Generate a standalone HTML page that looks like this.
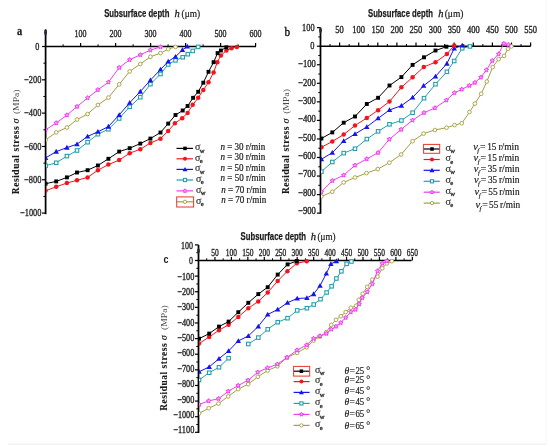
<!DOCTYPE html>
<html><head><meta charset="utf-8"><title>Residual stress vs subsurface depth</title>
<style>html,body{margin:0;padding:0;background:#fff;}svg{display:block;}</style></head>
<body><svg width="550" height="446" viewBox="0 0 550 446">
<rect width="550" height="446" fill="#fff"/>
<line x1="44.800000000000004" y1="46.5" x2="256" y2="46.5" stroke="#000" stroke-width="1.55"/>
<line x1="45.6" y1="29.5" x2="45.6" y2="214.2" stroke="#000" stroke-width="1.75"/>
<line x1="80.60" y1="46.5" x2="80.60" y2="42.9" stroke="#000" stroke-width="1.2"/>
<line x1="115.60" y1="46.5" x2="115.60" y2="42.9" stroke="#000" stroke-width="1.2"/>
<line x1="150.60" y1="46.5" x2="150.60" y2="42.9" stroke="#000" stroke-width="1.2"/>
<line x1="185.60" y1="46.5" x2="185.60" y2="42.9" stroke="#000" stroke-width="1.2"/>
<line x1="220.60" y1="46.5" x2="220.60" y2="42.9" stroke="#000" stroke-width="1.2"/>
<line x1="255.60" y1="46.5" x2="255.60" y2="42.9" stroke="#000" stroke-width="1.2"/>
<line x1="63.10" y1="46.5" x2="63.10" y2="44.3" stroke="#000" stroke-width="1"/>
<line x1="98.10" y1="46.5" x2="98.10" y2="44.3" stroke="#000" stroke-width="1"/>
<line x1="133.10" y1="46.5" x2="133.10" y2="44.3" stroke="#000" stroke-width="1"/>
<line x1="168.10" y1="46.5" x2="168.10" y2="44.3" stroke="#000" stroke-width="1"/>
<line x1="203.10" y1="46.5" x2="203.10" y2="44.3" stroke="#000" stroke-width="1"/>
<line x1="238.10" y1="46.5" x2="238.10" y2="44.3" stroke="#000" stroke-width="1"/>
<line x1="45.6" y1="46.50" x2="42.0" y2="46.50" stroke="#000" stroke-width="1.2"/>
<line x1="45.6" y1="79.82" x2="42.0" y2="79.82" stroke="#000" stroke-width="1.2"/>
<line x1="45.6" y1="113.14" x2="42.0" y2="113.14" stroke="#000" stroke-width="1.2"/>
<line x1="45.6" y1="146.46" x2="42.0" y2="146.46" stroke="#000" stroke-width="1.2"/>
<line x1="45.6" y1="179.78" x2="42.0" y2="179.78" stroke="#000" stroke-width="1.2"/>
<line x1="45.6" y1="213.10" x2="42.0" y2="213.10" stroke="#000" stroke-width="1.2"/>
<line x1="45.6" y1="63.16" x2="43.4" y2="63.16" stroke="#000" stroke-width="1"/>
<line x1="45.6" y1="96.48" x2="43.4" y2="96.48" stroke="#000" stroke-width="1"/>
<line x1="45.6" y1="129.80" x2="43.4" y2="129.80" stroke="#000" stroke-width="1"/>
<line x1="45.6" y1="163.12" x2="43.4" y2="163.12" stroke="#000" stroke-width="1"/>
<line x1="45.6" y1="196.44" x2="43.4" y2="196.44" stroke="#000" stroke-width="1"/>
<ellipse cx="45.6" cy="32.3" rx="1.4" ry="3.0" fill="#1c2a3a"/>
<text x="80.60" y="36.80" font-family='"Liberation Serif", serif' font-size="9.3" font-weight="normal" font-style="normal" text-anchor="middle" fill="#2a2a2a" textLength="12.0" lengthAdjust="spacingAndGlyphs" stroke="#2a2a2a" stroke-width="0.35">100</text>
<text x="115.60" y="36.80" font-family='"Liberation Serif", serif' font-size="9.3" font-weight="normal" font-style="normal" text-anchor="middle" fill="#2a2a2a" textLength="12.0" lengthAdjust="spacingAndGlyphs" stroke="#2a2a2a" stroke-width="0.35">200</text>
<text x="150.60" y="36.80" font-family='"Liberation Serif", serif' font-size="9.3" font-weight="normal" font-style="normal" text-anchor="middle" fill="#2a2a2a" textLength="12.0" lengthAdjust="spacingAndGlyphs" stroke="#2a2a2a" stroke-width="0.35">300</text>
<text x="185.60" y="36.80" font-family='"Liberation Serif", serif' font-size="9.3" font-weight="normal" font-style="normal" text-anchor="middle" fill="#2a2a2a" textLength="12.0" lengthAdjust="spacingAndGlyphs" stroke="#2a2a2a" stroke-width="0.35">400</text>
<text x="220.60" y="36.80" font-family='"Liberation Serif", serif' font-size="9.3" font-weight="normal" font-style="normal" text-anchor="middle" fill="#2a2a2a" textLength="12.0" lengthAdjust="spacingAndGlyphs" stroke="#2a2a2a" stroke-width="0.35">500</text>
<text x="255.60" y="36.80" font-family='"Liberation Serif", serif' font-size="9.3" font-weight="normal" font-style="normal" text-anchor="middle" fill="#2a2a2a" textLength="12.0" lengthAdjust="spacingAndGlyphs" stroke="#2a2a2a" stroke-width="0.35">600</text>
<text x="35.30" y="49.50" font-family='"Liberation Serif", serif' font-size="9.3" font-weight="normal" font-style="normal" text-anchor="start" fill="#2a2a2a" textLength="4.1" lengthAdjust="spacingAndGlyphs" stroke="#2a2a2a" stroke-width="0.35">0</text>
<text x="24.10" y="83.00" font-family='"Liberation Serif", serif' font-size="9.3" font-weight="normal" font-style="normal" text-anchor="start" fill="#2a2a2a" textLength="17.3" lengthAdjust="spacingAndGlyphs" stroke="#2a2a2a" stroke-width="0.35">−200</text>
<text x="24.10" y="116.30" font-family='"Liberation Serif", serif' font-size="9.3" font-weight="normal" font-style="normal" text-anchor="start" fill="#2a2a2a" textLength="17.3" lengthAdjust="spacingAndGlyphs" stroke="#2a2a2a" stroke-width="0.35">−400</text>
<text x="24.10" y="149.80" font-family='"Liberation Serif", serif' font-size="9.3" font-weight="normal" font-style="normal" text-anchor="start" fill="#2a2a2a" textLength="17.3" lengthAdjust="spacingAndGlyphs" stroke="#2a2a2a" stroke-width="0.35">−600</text>
<text x="24.10" y="183.40" font-family='"Liberation Serif", serif' font-size="9.3" font-weight="normal" font-style="normal" text-anchor="start" fill="#2a2a2a" textLength="17.3" lengthAdjust="spacingAndGlyphs" stroke="#2a2a2a" stroke-width="0.35">−800</text>
<text x="20.00" y="215.70" font-family='"Liberation Serif", serif' font-size="9.3" font-weight="normal" font-style="normal" text-anchor="start" fill="#2a2a2a" textLength="21.4" lengthAdjust="spacingAndGlyphs" stroke="#2a2a2a" stroke-width="0.35">−1000</text>
<text x="104.20" y="16.70" font-family='"Liberation Sans", sans-serif' font-size="11" font-weight="bold" font-style="normal" text-anchor="start" fill="#1a1a1a" textLength="65.2" lengthAdjust="spacingAndGlyphs" stroke="#1a1a1a" stroke-width="0.25">Subsurface depth</text>
<text x="174.60" y="16.70" font-family='"Liberation Serif", serif' font-size="10.5" font-weight="normal" font-style="italic" text-anchor="start" fill="#1a1a1a" stroke="#1a1a1a" stroke-width="0.3">h</text>
<text x="181.60" y="16.70" font-family='"Liberation Serif", serif' font-size="10.5" font-weight="normal" font-style="normal" text-anchor="start" fill="#1a1a1a" textLength="18.6" lengthAdjust="spacingAndGlyphs" stroke="#1a1a1a" stroke-width="0.2">(μm)</text>
<text x="17.00" y="35.00" font-family='"Liberation Serif", serif' font-size="12" font-weight="bold" font-style="normal" text-anchor="start" fill="#1a1a1a" textLength="5.2" lengthAdjust="spacingAndGlyphs" stroke="#1a1a1a" stroke-width="0.3">a</text>
<g transform="translate(19.30,194.20) rotate(-90)">
<text x="0" y="0" font-family='"Liberation Serif", serif' font-size="9.4" font-weight="bold" fill="#1a1a1a" stroke="#1a1a1a" stroke-width="0.1" textLength="67.8" lengthAdjust="spacing">Residual stress</text>
<text x="70.60" y="0" font-family='"Liberation Serif", serif' font-size="10" font-style="italic" font-weight="bold" fill="#333">σ</text>
<text x="80.10" y="0" font-family='"Liberation Serif", serif' font-size="8.6" fill="#4a4a4a" textLength="24.70" lengthAdjust="spacingAndGlyphs">(MPa)</text>
</g>
<clipPath id="ca"><rect x="46.2" y="0" width="300" height="240"/></clipPath><g clip-path="url(#ca)">
<polyline points="45.6,139.9 56.2,132.4 66.9,127.5 77.0,119.6 87.6,114.0 97.9,105.0 108.4,97.6 119.2,84.4 129.7,71.4 140.3,64.0 150.4,56.8 160.5,53.1 168.2,49.1 175.5,46.9" fill="none" stroke="#a59e42" stroke-width="1"/>
<circle cx="45.60" cy="139.90" r="1.85" fill="#fff" stroke="#a59e42" stroke-width="0.9"/>
<circle cx="56.20" cy="132.40" r="1.85" fill="#fff" stroke="#a59e42" stroke-width="0.9"/>
<circle cx="66.90" cy="127.50" r="1.85" fill="#fff" stroke="#a59e42" stroke-width="0.9"/>
<circle cx="77.00" cy="119.60" r="1.85" fill="#fff" stroke="#a59e42" stroke-width="0.9"/>
<circle cx="87.60" cy="114.00" r="1.85" fill="#fff" stroke="#a59e42" stroke-width="0.9"/>
<circle cx="97.90" cy="105.00" r="1.85" fill="#fff" stroke="#a59e42" stroke-width="0.9"/>
<circle cx="108.40" cy="97.60" r="1.85" fill="#fff" stroke="#a59e42" stroke-width="0.9"/>
<circle cx="119.20" cy="84.40" r="1.85" fill="#fff" stroke="#a59e42" stroke-width="0.9"/>
<circle cx="129.70" cy="71.40" r="1.85" fill="#fff" stroke="#a59e42" stroke-width="0.9"/>
<circle cx="140.30" cy="64.00" r="1.85" fill="#fff" stroke="#a59e42" stroke-width="0.9"/>
<circle cx="150.40" cy="56.80" r="1.85" fill="#fff" stroke="#a59e42" stroke-width="0.9"/>
<circle cx="160.50" cy="53.10" r="1.85" fill="#fff" stroke="#a59e42" stroke-width="0.9"/>
<circle cx="168.20" cy="49.10" r="1.85" fill="#fff" stroke="#a59e42" stroke-width="0.9"/>
<circle cx="175.50" cy="46.90" r="1.85" fill="#fff" stroke="#a59e42" stroke-width="0.9"/>
<polyline points="45.6,129.8 56.2,123.0 66.9,115.1 77.0,106.6 87.6,97.9 97.9,89.8 108.4,82.2 119.2,67.6 129.7,59.7 140.3,54.8 150.4,50.1 160.5,47.0" fill="none" stroke="#f03cf0" stroke-width="1"/>
<polygon points="45.60,127.50 46.33,128.79 47.79,129.09 46.79,130.19 46.95,131.66 45.60,131.05 44.25,131.66 44.41,130.19 43.41,129.09 44.87,128.79" fill="#f6a8f2" stroke="#f03cf0" stroke-width="1.0"/>
<polygon points="56.20,120.70 56.93,121.99 58.39,122.29 57.39,123.39 57.55,124.86 56.20,124.25 54.85,124.86 55.01,123.39 54.01,122.29 55.47,121.99" fill="#f6a8f2" stroke="#f03cf0" stroke-width="1.0"/>
<polygon points="66.90,112.80 67.63,114.09 69.09,114.39 68.09,115.49 68.25,116.96 66.90,116.35 65.55,116.96 65.71,115.49 64.71,114.39 66.17,114.09" fill="#f6a8f2" stroke="#f03cf0" stroke-width="1.0"/>
<polygon points="77.00,104.30 77.73,105.59 79.19,105.89 78.19,106.99 78.35,108.46 77.00,107.85 75.65,108.46 75.81,106.99 74.81,105.89 76.27,105.59" fill="#f6a8f2" stroke="#f03cf0" stroke-width="1.0"/>
<polygon points="87.60,95.60 88.33,96.89 89.79,97.19 88.79,98.29 88.95,99.76 87.60,99.15 86.25,99.76 86.41,98.29 85.41,97.19 86.87,96.89" fill="#f6a8f2" stroke="#f03cf0" stroke-width="1.0"/>
<polygon points="97.90,87.50 98.63,88.79 100.09,89.09 99.09,90.19 99.25,91.66 97.90,91.05 96.55,91.66 96.71,90.19 95.71,89.09 97.17,88.79" fill="#f6a8f2" stroke="#f03cf0" stroke-width="1.0"/>
<polygon points="108.40,79.90 109.13,81.19 110.59,81.49 109.59,82.59 109.75,84.06 108.40,83.45 107.05,84.06 107.21,82.59 106.21,81.49 107.67,81.19" fill="#f6a8f2" stroke="#f03cf0" stroke-width="1.0"/>
<polygon points="119.20,65.30 119.93,66.59 121.39,66.89 120.39,67.99 120.55,69.46 119.20,68.85 117.85,69.46 118.01,67.99 117.01,66.89 118.47,66.59" fill="#f6a8f2" stroke="#f03cf0" stroke-width="1.0"/>
<polygon points="129.70,57.40 130.43,58.69 131.89,58.99 130.89,60.09 131.05,61.56 129.70,60.95 128.35,61.56 128.51,60.09 127.51,58.99 128.97,58.69" fill="#f6a8f2" stroke="#f03cf0" stroke-width="1.0"/>
<polygon points="140.30,52.50 141.03,53.79 142.49,54.09 141.49,55.19 141.65,56.66 140.30,56.05 138.95,56.66 139.11,55.19 138.11,54.09 139.57,53.79" fill="#f6a8f2" stroke="#f03cf0" stroke-width="1.0"/>
<polygon points="150.40,47.80 151.13,49.09 152.59,49.39 151.59,50.49 151.75,51.96 150.40,51.35 149.05,51.96 149.21,50.49 148.21,49.39 149.67,49.09" fill="#f6a8f2" stroke="#f03cf0" stroke-width="1.0"/>
<polygon points="160.50,44.70 161.23,45.99 162.69,46.29 161.69,47.39 161.85,48.86 160.50,48.25 159.15,48.86 159.31,47.39 158.31,46.29 159.77,45.99" fill="#f6a8f2" stroke="#f03cf0" stroke-width="1.0"/>
<polyline points="45.6,165.7 56.2,162.8 66.9,156.1 77.0,150.5 87.6,142.2 97.9,134.2 108.4,129.3 119.2,118.5 129.7,106.8 140.3,97.2 150.4,84.2 160.5,74.0 168.2,64.5 175.5,60.4 182.7,57.3 187.8,54.2 192.7,50.9 198.2,46.9" fill="none" stroke="#24a0ae" stroke-width="1"/>
<rect x="43.85" y="163.95" width="3.50" height="3.50" fill="#fff" stroke="#24a0ae" stroke-width="1.1"/>
<rect x="54.45" y="161.05" width="3.50" height="3.50" fill="#fff" stroke="#24a0ae" stroke-width="1.1"/>
<rect x="65.15" y="154.35" width="3.50" height="3.50" fill="#fff" stroke="#24a0ae" stroke-width="1.1"/>
<rect x="75.25" y="148.75" width="3.50" height="3.50" fill="#fff" stroke="#24a0ae" stroke-width="1.1"/>
<rect x="85.85" y="140.45" width="3.50" height="3.50" fill="#fff" stroke="#24a0ae" stroke-width="1.1"/>
<rect x="96.15" y="132.45" width="3.50" height="3.50" fill="#fff" stroke="#24a0ae" stroke-width="1.1"/>
<rect x="106.65" y="127.55" width="3.50" height="3.50" fill="#fff" stroke="#24a0ae" stroke-width="1.1"/>
<rect x="117.45" y="116.75" width="3.50" height="3.50" fill="#fff" stroke="#24a0ae" stroke-width="1.1"/>
<rect x="127.95" y="105.05" width="3.50" height="3.50" fill="#fff" stroke="#24a0ae" stroke-width="1.1"/>
<rect x="138.55" y="95.45" width="3.50" height="3.50" fill="#fff" stroke="#24a0ae" stroke-width="1.1"/>
<rect x="148.65" y="82.45" width="3.50" height="3.50" fill="#fff" stroke="#24a0ae" stroke-width="1.1"/>
<rect x="158.75" y="72.25" width="3.50" height="3.50" fill="#fff" stroke="#24a0ae" stroke-width="1.1"/>
<rect x="166.45" y="62.75" width="3.50" height="3.50" fill="#fff" stroke="#24a0ae" stroke-width="1.1"/>
<rect x="173.75" y="58.65" width="3.50" height="3.50" fill="#fff" stroke="#24a0ae" stroke-width="1.1"/>
<rect x="180.95" y="55.55" width="3.50" height="3.50" fill="#fff" stroke="#24a0ae" stroke-width="1.1"/>
<rect x="186.05" y="52.45" width="3.50" height="3.50" fill="#fff" stroke="#24a0ae" stroke-width="1.1"/>
<rect x="190.95" y="49.15" width="3.50" height="3.50" fill="#fff" stroke="#24a0ae" stroke-width="1.1"/>
<rect x="196.45" y="45.15" width="3.50" height="3.50" fill="#fff" stroke="#24a0ae" stroke-width="1.1"/>
<polyline points="45.6,157.9 56.2,151.6 66.9,147.6 77.0,144.2 87.6,136.4 97.9,131.8 108.4,126.6 119.2,114.9 129.7,102.7 140.3,91.6 150.4,80.2 160.5,69.5 168.2,61.5 175.5,56.7 182.4,50.0 187.3,46.4" fill="none" stroke="#1414f0" stroke-width="1"/>
<path d="M45.60 155.15L48.35 159.96L42.85 159.96Z" fill="#1414f0"/>
<path d="M56.20 148.85L58.95 153.66L53.45 153.66Z" fill="#1414f0"/>
<path d="M66.90 144.85L69.65 149.66L64.15 149.66Z" fill="#1414f0"/>
<path d="M77.00 141.45L79.75 146.26L74.25 146.26Z" fill="#1414f0"/>
<path d="M87.60 133.65L90.35 138.46L84.85 138.46Z" fill="#1414f0"/>
<path d="M97.90 129.05L100.65 133.86L95.15 133.86Z" fill="#1414f0"/>
<path d="M108.40 123.85L111.15 128.66L105.65 128.66Z" fill="#1414f0"/>
<path d="M119.20 112.15L121.95 116.96L116.45 116.96Z" fill="#1414f0"/>
<path d="M129.70 99.95L132.45 104.76L126.95 104.76Z" fill="#1414f0"/>
<path d="M140.30 88.85L143.05 93.66L137.55 93.66Z" fill="#1414f0"/>
<path d="M150.40 77.45L153.15 82.26L147.65 82.26Z" fill="#1414f0"/>
<path d="M160.50 66.75L163.25 71.56L157.75 71.56Z" fill="#1414f0"/>
<path d="M168.20 58.75L170.95 63.56L165.45 63.56Z" fill="#1414f0"/>
<path d="M175.50 53.95L178.25 58.76L172.75 58.76Z" fill="#1414f0"/>
<path d="M182.40 47.25L185.15 52.06L179.65 52.06Z" fill="#1414f0"/>
<path d="M187.30 43.65L190.05 48.46L184.55 48.46Z" fill="#1414f0"/>
<polyline points="45.6,190.8 56.2,186.8 66.9,183.0 77.0,180.3 87.6,177.4 97.9,170.2 108.4,164.6 119.2,160.1 129.7,153.2 140.3,149.2 150.4,143.0 160.5,138.7 168.2,130.9 174.9,123.3 182.2,118.2 187.6,112.9 192.7,104.8 198.2,97.8 203.3,90.0 208.5,82.2 213.6,72.4 217.3,62.2 220.9,55.5 226.4,50.5 231.5,48.2 236.9,46.9" fill="none" stroke="#f5141e" stroke-width="1"/>
<circle cx="45.60" cy="190.80" r="2.25" fill="#f5141e"/>
<circle cx="56.20" cy="186.80" r="2.25" fill="#f5141e"/>
<circle cx="66.90" cy="183.00" r="2.25" fill="#f5141e"/>
<circle cx="77.00" cy="180.30" r="2.25" fill="#f5141e"/>
<circle cx="87.60" cy="177.40" r="2.25" fill="#f5141e"/>
<circle cx="97.90" cy="170.20" r="2.25" fill="#f5141e"/>
<circle cx="108.40" cy="164.60" r="2.25" fill="#f5141e"/>
<circle cx="119.20" cy="160.10" r="2.25" fill="#f5141e"/>
<circle cx="129.70" cy="153.20" r="2.25" fill="#f5141e"/>
<circle cx="140.30" cy="149.20" r="2.25" fill="#f5141e"/>
<circle cx="150.40" cy="143.00" r="2.25" fill="#f5141e"/>
<circle cx="160.50" cy="138.70" r="2.25" fill="#f5141e"/>
<circle cx="168.20" cy="130.90" r="2.25" fill="#f5141e"/>
<circle cx="174.90" cy="123.30" r="2.25" fill="#f5141e"/>
<circle cx="182.20" cy="118.20" r="2.25" fill="#f5141e"/>
<circle cx="187.60" cy="112.90" r="2.25" fill="#f5141e"/>
<circle cx="192.70" cy="104.80" r="2.25" fill="#f5141e"/>
<circle cx="198.20" cy="97.80" r="2.25" fill="#f5141e"/>
<circle cx="203.30" cy="90.00" r="2.25" fill="#f5141e"/>
<circle cx="208.50" cy="82.20" r="2.25" fill="#f5141e"/>
<circle cx="213.60" cy="72.40" r="2.25" fill="#f5141e"/>
<circle cx="217.30" cy="62.20" r="2.25" fill="#f5141e"/>
<circle cx="220.90" cy="55.50" r="2.25" fill="#f5141e"/>
<circle cx="226.40" cy="50.50" r="2.25" fill="#f5141e"/>
<circle cx="231.50" cy="48.20" r="2.25" fill="#f5141e"/>
<circle cx="236.90" cy="46.90" r="2.25" fill="#f5141e"/>
<polyline points="45.6,183.7 56.2,181.4 66.9,177.4 77.0,172.5 87.6,170.2 97.9,165.5 108.4,158.8 119.2,151.6 129.7,148.2 140.3,143.6 150.4,138.6 160.5,132.5 168.2,123.6 175.5,115.0 182.7,110.5 187.6,106.0 193.1,97.8 198.2,91.8 203.3,82.7 208.5,71.8 213.6,62.2 217.6,53.1 220.9,50.5 226.4,47.3" fill="none" stroke="#000000" stroke-width="1"/>
<rect x="43.65" y="181.75" width="3.90" height="3.90" fill="#000000"/>
<rect x="54.25" y="179.45" width="3.90" height="3.90" fill="#000000"/>
<rect x="64.95" y="175.45" width="3.90" height="3.90" fill="#000000"/>
<rect x="75.05" y="170.55" width="3.90" height="3.90" fill="#000000"/>
<rect x="85.65" y="168.25" width="3.90" height="3.90" fill="#000000"/>
<rect x="95.95" y="163.55" width="3.90" height="3.90" fill="#000000"/>
<rect x="106.45" y="156.85" width="3.90" height="3.90" fill="#000000"/>
<rect x="117.25" y="149.65" width="3.90" height="3.90" fill="#000000"/>
<rect x="127.75" y="146.25" width="3.90" height="3.90" fill="#000000"/>
<rect x="138.35" y="141.65" width="3.90" height="3.90" fill="#000000"/>
<rect x="148.45" y="136.65" width="3.90" height="3.90" fill="#000000"/>
<rect x="158.55" y="130.55" width="3.90" height="3.90" fill="#000000"/>
<rect x="166.25" y="121.65" width="3.90" height="3.90" fill="#000000"/>
<rect x="173.55" y="113.05" width="3.90" height="3.90" fill="#000000"/>
<rect x="180.75" y="108.55" width="3.90" height="3.90" fill="#000000"/>
<rect x="185.65" y="104.05" width="3.90" height="3.90" fill="#000000"/>
<rect x="191.15" y="95.85" width="3.90" height="3.90" fill="#000000"/>
<rect x="196.25" y="89.85" width="3.90" height="3.90" fill="#000000"/>
<rect x="201.35" y="80.75" width="3.90" height="3.90" fill="#000000"/>
<rect x="206.55" y="69.85" width="3.90" height="3.90" fill="#000000"/>
<rect x="211.65" y="60.25" width="3.90" height="3.90" fill="#000000"/>
<rect x="215.65" y="51.15" width="3.90" height="3.90" fill="#000000"/>
<rect x="218.95" y="48.55" width="3.90" height="3.90" fill="#000000"/>
<rect x="224.45" y="45.35" width="3.90" height="3.90" fill="#000000"/>
</g>
<line x1="176.5" y1="148.40" x2="193" y2="148.40" stroke="#000000" stroke-width="1.2"/>
<rect x="183.25" y="146.65" width="3.51" height="3.51" fill="#000000"/>
<text x="195.00" y="150.10" font-family='"Liberation Serif", serif' font-size="10" font-weight="normal" font-style="normal" text-anchor="start" fill="#333" stroke="#333" stroke-width="0.2">σ</text>
<text x="199.70" y="152.50" font-family='"Liberation Serif", serif' font-size="6.6" font-weight="normal" font-style="normal" text-anchor="start" fill="#333" stroke="#333" stroke-width="0.35">w</text>
<text x="220.40" y="149.70" font-family='"Liberation Serif", serif' font-size="9.8" fill="#222" stroke="#222" stroke-width="0.22" textLength="45" lengthAdjust="spacingAndGlyphs"><tspan font-style="italic">n</tspan> = 30 r/min</text>
<line x1="176.5" y1="158.80" x2="193" y2="158.80" stroke="#f5141e" stroke-width="1.2"/>
<circle cx="185.00" cy="158.80" r="2.02" fill="#f5141e"/>
<text x="195.00" y="160.50" font-family='"Liberation Serif", serif' font-size="10" font-weight="normal" font-style="normal" text-anchor="start" fill="#333" stroke="#333" stroke-width="0.2">σ</text>
<text x="199.70" y="162.90" font-family='"Liberation Serif", serif' font-size="6.6" font-weight="normal" font-style="normal" text-anchor="start" fill="#333" stroke="#333" stroke-width="0.35">e</text>
<text x="220.40" y="160.40" font-family='"Liberation Serif", serif' font-size="9.8" fill="#222" stroke="#222" stroke-width="0.22" textLength="45" lengthAdjust="spacingAndGlyphs"><tspan font-style="italic">n</tspan> = 30 r/min</text>
<line x1="176.5" y1="169.40" x2="193" y2="169.40" stroke="#1414f0" stroke-width="1.2"/>
<path d="M185.00 166.93L187.47 171.26L182.53 171.26Z" fill="#1414f0"/>
<text x="195.00" y="171.10" font-family='"Liberation Serif", serif' font-size="10" font-weight="normal" font-style="normal" text-anchor="start" fill="#333" stroke="#333" stroke-width="0.2">σ</text>
<text x="199.70" y="173.50" font-family='"Liberation Serif", serif' font-size="6.6" font-weight="normal" font-style="normal" text-anchor="start" fill="#333" stroke="#333" stroke-width="0.35">w</text>
<text x="220.40" y="170.70" font-family='"Liberation Serif", serif' font-size="9.8" fill="#222" stroke="#222" stroke-width="0.22" textLength="45" lengthAdjust="spacingAndGlyphs"><tspan font-style="italic">n</tspan> = 50 r/min</text>
<line x1="176.5" y1="180.00" x2="193" y2="180.00" stroke="#24a0ae" stroke-width="1.2"/>
<rect x="183.43" y="178.43" width="3.15" height="3.15" fill="#fff" stroke="#24a0ae" stroke-width="1.1"/>
<text x="196.00" y="181.70" font-family='"Liberation Serif", serif' font-size="10" font-weight="normal" font-style="normal" text-anchor="start" fill="#333" stroke="#333" stroke-width="0.2">σ</text>
<text x="200.70" y="184.10" font-family='"Liberation Serif", serif' font-size="6.6" font-weight="normal" font-style="normal" text-anchor="start" fill="#333" stroke="#333" stroke-width="0.35">e</text>
<text x="220.60" y="180.90" font-family='"Liberation Serif", serif' font-size="9.8" fill="#222" stroke="#222" stroke-width="0.22" textLength="45" lengthAdjust="spacingAndGlyphs"><tspan font-style="italic">n</tspan> = 50 r/min</text>
<line x1="176.5" y1="190.90" x2="193" y2="190.90" stroke="#f03cf0" stroke-width="1.2"/>
<polygon points="185.00,188.83 185.66,189.99 186.97,190.26 186.07,191.25 186.22,192.57 185.00,192.03 183.78,192.57 183.93,191.25 183.03,190.26 184.34,189.99" fill="#f6a8f2" stroke="#f03cf0" stroke-width="1.0"/>
<text x="196.00" y="192.60" font-family='"Liberation Serif", serif' font-size="10" font-weight="normal" font-style="normal" text-anchor="start" fill="#333" stroke="#333" stroke-width="0.2">σ</text>
<text x="200.70" y="195.00" font-family='"Liberation Serif", serif' font-size="6.6" font-weight="normal" font-style="normal" text-anchor="start" fill="#333" stroke="#333" stroke-width="0.35">w</text>
<text x="221.20" y="192.70" font-family='"Liberation Serif", serif' font-size="9.8" fill="#222" stroke="#222" stroke-width="0.22" textLength="45" lengthAdjust="spacingAndGlyphs"><tspan font-style="italic">n</tspan> = 70 r/min</text>
<line x1="176.5" y1="201.80" x2="193" y2="201.80" stroke="#a59e42" stroke-width="1.2"/>
<circle cx="185.00" cy="201.80" r="1.67" fill="#fff" stroke="#a59e42" stroke-width="0.9"/>
<text x="196.00" y="203.50" font-family='"Liberation Serif", serif' font-size="10" font-weight="normal" font-style="normal" text-anchor="start" fill="#333" stroke="#333" stroke-width="0.2">σ</text>
<text x="200.70" y="205.90" font-family='"Liberation Serif", serif' font-size="6.6" font-weight="normal" font-style="normal" text-anchor="start" fill="#333" stroke="#333" stroke-width="0.35">e</text>
<text x="221.20" y="202.90" font-family='"Liberation Serif", serif' font-size="9.8" fill="#222" stroke="#222" stroke-width="0.22" textLength="45" lengthAdjust="spacingAndGlyphs"><tspan font-style="italic">n</tspan> = 70 r/min</text>
<rect x="176.7" y="196.9" width="16.900000000000006" height="10.099999999999994" fill="none" stroke="#e23a2a" stroke-width="1"/>
<line x1="319.7" y1="46.2" x2="530.6" y2="46.2" stroke="#000" stroke-width="1.55"/>
<line x1="320.5" y1="27.5" x2="320.5" y2="213.7" stroke="#000" stroke-width="1.75"/>
<line x1="339.60" y1="46.2" x2="339.60" y2="42.6" stroke="#000" stroke-width="1.2"/>
<line x1="358.70" y1="46.2" x2="358.70" y2="42.6" stroke="#000" stroke-width="1.2"/>
<line x1="377.80" y1="46.2" x2="377.80" y2="42.6" stroke="#000" stroke-width="1.2"/>
<line x1="396.90" y1="46.2" x2="396.90" y2="42.6" stroke="#000" stroke-width="1.2"/>
<line x1="416.00" y1="46.2" x2="416.00" y2="42.6" stroke="#000" stroke-width="1.2"/>
<line x1="435.10" y1="46.2" x2="435.10" y2="42.6" stroke="#000" stroke-width="1.2"/>
<line x1="454.20" y1="46.2" x2="454.20" y2="42.6" stroke="#000" stroke-width="1.2"/>
<line x1="473.30" y1="46.2" x2="473.30" y2="42.6" stroke="#000" stroke-width="1.2"/>
<line x1="492.40" y1="46.2" x2="492.40" y2="42.6" stroke="#000" stroke-width="1.2"/>
<line x1="511.50" y1="46.2" x2="511.50" y2="42.6" stroke="#000" stroke-width="1.2"/>
<line x1="530.60" y1="46.2" x2="530.60" y2="42.6" stroke="#000" stroke-width="1.2"/>
<line x1="330.05" y1="46.2" x2="330.05" y2="44.0" stroke="#000" stroke-width="1"/>
<line x1="349.15" y1="46.2" x2="349.15" y2="44.0" stroke="#000" stroke-width="1"/>
<line x1="368.25" y1="46.2" x2="368.25" y2="44.0" stroke="#000" stroke-width="1"/>
<line x1="387.35" y1="46.2" x2="387.35" y2="44.0" stroke="#000" stroke-width="1"/>
<line x1="406.45" y1="46.2" x2="406.45" y2="44.0" stroke="#000" stroke-width="1"/>
<line x1="425.55" y1="46.2" x2="425.55" y2="44.0" stroke="#000" stroke-width="1"/>
<line x1="444.65" y1="46.2" x2="444.65" y2="44.0" stroke="#000" stroke-width="1"/>
<line x1="463.75" y1="46.2" x2="463.75" y2="44.0" stroke="#000" stroke-width="1"/>
<line x1="482.85" y1="46.2" x2="482.85" y2="44.0" stroke="#000" stroke-width="1"/>
<line x1="501.95" y1="46.2" x2="501.95" y2="44.0" stroke="#000" stroke-width="1"/>
<line x1="521.05" y1="46.2" x2="521.05" y2="44.0" stroke="#000" stroke-width="1"/>
<line x1="320.5" y1="27.65" x2="316.9" y2="27.65" stroke="#000" stroke-width="1.2"/>
<line x1="320.5" y1="46.20" x2="316.9" y2="46.20" stroke="#000" stroke-width="1.2"/>
<line x1="320.5" y1="64.75" x2="316.9" y2="64.75" stroke="#000" stroke-width="1.2"/>
<line x1="320.5" y1="83.30" x2="316.9" y2="83.30" stroke="#000" stroke-width="1.2"/>
<line x1="320.5" y1="101.85" x2="316.9" y2="101.85" stroke="#000" stroke-width="1.2"/>
<line x1="320.5" y1="120.40" x2="316.9" y2="120.40" stroke="#000" stroke-width="1.2"/>
<line x1="320.5" y1="138.95" x2="316.9" y2="138.95" stroke="#000" stroke-width="1.2"/>
<line x1="320.5" y1="157.50" x2="316.9" y2="157.50" stroke="#000" stroke-width="1.2"/>
<line x1="320.5" y1="176.05" x2="316.9" y2="176.05" stroke="#000" stroke-width="1.2"/>
<line x1="320.5" y1="194.60" x2="316.9" y2="194.60" stroke="#000" stroke-width="1.2"/>
<line x1="320.5" y1="213.15" x2="316.9" y2="213.15" stroke="#000" stroke-width="1.2"/>
<line x1="320.5" y1="36.93" x2="318.3" y2="36.93" stroke="#000" stroke-width="1"/>
<line x1="320.5" y1="55.48" x2="318.3" y2="55.48" stroke="#000" stroke-width="1"/>
<line x1="320.5" y1="74.03" x2="318.3" y2="74.03" stroke="#000" stroke-width="1"/>
<line x1="320.5" y1="92.58" x2="318.3" y2="92.58" stroke="#000" stroke-width="1"/>
<line x1="320.5" y1="111.12" x2="318.3" y2="111.12" stroke="#000" stroke-width="1"/>
<line x1="320.5" y1="129.68" x2="318.3" y2="129.68" stroke="#000" stroke-width="1"/>
<line x1="320.5" y1="148.23" x2="318.3" y2="148.23" stroke="#000" stroke-width="1"/>
<line x1="320.5" y1="166.78" x2="318.3" y2="166.78" stroke="#000" stroke-width="1"/>
<line x1="320.5" y1="185.32" x2="318.3" y2="185.32" stroke="#000" stroke-width="1"/>
<line x1="320.5" y1="203.88" x2="318.3" y2="203.88" stroke="#000" stroke-width="1"/>
<ellipse cx="320.5" cy="30.5" rx="1.4" ry="2.6" fill="#1c2a3a"/>
<text x="339.60" y="33.20" font-family='"Liberation Serif", serif' font-size="9.3" font-weight="normal" font-style="normal" text-anchor="middle" fill="#2a2a2a" textLength="8.5" lengthAdjust="spacingAndGlyphs" stroke="#2a2a2a" stroke-width="0.35">50</text>
<text x="358.70" y="33.20" font-family='"Liberation Serif", serif' font-size="9.3" font-weight="normal" font-style="normal" text-anchor="middle" fill="#2a2a2a" textLength="12.8" lengthAdjust="spacingAndGlyphs" stroke="#2a2a2a" stroke-width="0.35">100</text>
<text x="377.80" y="33.20" font-family='"Liberation Serif", serif' font-size="9.3" font-weight="normal" font-style="normal" text-anchor="middle" fill="#2a2a2a" textLength="12.8" lengthAdjust="spacingAndGlyphs" stroke="#2a2a2a" stroke-width="0.35">150</text>
<text x="396.90" y="33.20" font-family='"Liberation Serif", serif' font-size="9.3" font-weight="normal" font-style="normal" text-anchor="middle" fill="#2a2a2a" textLength="12.8" lengthAdjust="spacingAndGlyphs" stroke="#2a2a2a" stroke-width="0.35">200</text>
<text x="416.00" y="33.20" font-family='"Liberation Serif", serif' font-size="9.3" font-weight="normal" font-style="normal" text-anchor="middle" fill="#2a2a2a" textLength="12.8" lengthAdjust="spacingAndGlyphs" stroke="#2a2a2a" stroke-width="0.35">250</text>
<text x="435.10" y="33.20" font-family='"Liberation Serif", serif' font-size="9.3" font-weight="normal" font-style="normal" text-anchor="middle" fill="#2a2a2a" textLength="12.8" lengthAdjust="spacingAndGlyphs" stroke="#2a2a2a" stroke-width="0.35">300</text>
<text x="454.20" y="33.20" font-family='"Liberation Serif", serif' font-size="9.3" font-weight="normal" font-style="normal" text-anchor="middle" fill="#2a2a2a" textLength="12.8" lengthAdjust="spacingAndGlyphs" stroke="#2a2a2a" stroke-width="0.35">350</text>
<text x="473.30" y="33.20" font-family='"Liberation Serif", serif' font-size="9.3" font-weight="normal" font-style="normal" text-anchor="middle" fill="#2a2a2a" textLength="12.8" lengthAdjust="spacingAndGlyphs" stroke="#2a2a2a" stroke-width="0.35">400</text>
<text x="492.40" y="33.20" font-family='"Liberation Serif", serif' font-size="9.3" font-weight="normal" font-style="normal" text-anchor="middle" fill="#2a2a2a" textLength="12.8" lengthAdjust="spacingAndGlyphs" stroke="#2a2a2a" stroke-width="0.35">450</text>
<text x="511.50" y="33.20" font-family='"Liberation Serif", serif' font-size="9.3" font-weight="normal" font-style="normal" text-anchor="middle" fill="#2a2a2a" textLength="12.8" lengthAdjust="spacingAndGlyphs" stroke="#2a2a2a" stroke-width="0.35">500</text>
<text x="530.60" y="33.20" font-family='"Liberation Serif", serif' font-size="9.3" font-weight="normal" font-style="normal" text-anchor="middle" fill="#2a2a2a" textLength="12.8" lengthAdjust="spacingAndGlyphs" stroke="#2a2a2a" stroke-width="0.35">550</text>
<text x="302.05" y="30.80" font-family='"Liberation Serif", serif' font-size="9.3" font-weight="normal" font-style="normal" text-anchor="start" fill="#2a2a2a" textLength="12.5" lengthAdjust="spacingAndGlyphs" stroke="#2a2a2a" stroke-width="0.35">100</text>
<text x="310.35" y="49.12" font-family='"Liberation Serif", serif' font-size="9.3" font-weight="normal" font-style="normal" text-anchor="start" fill="#2a2a2a" textLength="4.2" lengthAdjust="spacingAndGlyphs" stroke="#2a2a2a" stroke-width="0.35">0</text>
<text x="298.05" y="67.44" font-family='"Liberation Serif", serif' font-size="9.3" font-weight="normal" font-style="normal" text-anchor="start" fill="#2a2a2a" textLength="17.9" lengthAdjust="spacingAndGlyphs" stroke="#2a2a2a" stroke-width="0.35">−100</text>
<text x="298.05" y="85.76" font-family='"Liberation Serif", serif' font-size="9.3" font-weight="normal" font-style="normal" text-anchor="start" fill="#2a2a2a" textLength="17.9" lengthAdjust="spacingAndGlyphs" stroke="#2a2a2a" stroke-width="0.35">−200</text>
<text x="298.05" y="104.08" font-family='"Liberation Serif", serif' font-size="9.3" font-weight="normal" font-style="normal" text-anchor="start" fill="#2a2a2a" textLength="17.9" lengthAdjust="spacingAndGlyphs" stroke="#2a2a2a" stroke-width="0.35">−300</text>
<text x="298.05" y="122.40" font-family='"Liberation Serif", serif' font-size="9.3" font-weight="normal" font-style="normal" text-anchor="start" fill="#2a2a2a" textLength="17.9" lengthAdjust="spacingAndGlyphs" stroke="#2a2a2a" stroke-width="0.35">−400</text>
<text x="298.05" y="140.72" font-family='"Liberation Serif", serif' font-size="9.3" font-weight="normal" font-style="normal" text-anchor="start" fill="#2a2a2a" textLength="17.9" lengthAdjust="spacingAndGlyphs" stroke="#2a2a2a" stroke-width="0.35">−500</text>
<text x="298.05" y="159.04" font-family='"Liberation Serif", serif' font-size="9.3" font-weight="normal" font-style="normal" text-anchor="start" fill="#2a2a2a" textLength="17.9" lengthAdjust="spacingAndGlyphs" stroke="#2a2a2a" stroke-width="0.35">−600</text>
<text x="298.05" y="177.36" font-family='"Liberation Serif", serif' font-size="9.3" font-weight="normal" font-style="normal" text-anchor="start" fill="#2a2a2a" textLength="17.9" lengthAdjust="spacingAndGlyphs" stroke="#2a2a2a" stroke-width="0.35">−700</text>
<text x="298.05" y="195.68" font-family='"Liberation Serif", serif' font-size="9.3" font-weight="normal" font-style="normal" text-anchor="start" fill="#2a2a2a" textLength="17.9" lengthAdjust="spacingAndGlyphs" stroke="#2a2a2a" stroke-width="0.35">−800</text>
<text x="298.05" y="214.00" font-family='"Liberation Serif", serif' font-size="9.3" font-weight="normal" font-style="normal" text-anchor="start" fill="#2a2a2a" textLength="17.9" lengthAdjust="spacingAndGlyphs" stroke="#2a2a2a" stroke-width="0.35">−900</text>
<text x="368.00" y="17.00" font-family='"Liberation Sans", sans-serif' font-size="11" font-weight="bold" font-style="normal" text-anchor="start" fill="#1a1a1a" textLength="65.0" lengthAdjust="spacingAndGlyphs" stroke="#1a1a1a" stroke-width="0.25">Subsurface depth</text>
<text x="438.30" y="17.00" font-family='"Liberation Serif", serif' font-size="10.5" font-weight="normal" font-style="italic" text-anchor="start" fill="#1a1a1a" stroke="#1a1a1a" stroke-width="0.3">h</text>
<text x="444.70" y="17.00" font-family='"Liberation Serif", serif' font-size="10.5" font-weight="normal" font-style="normal" text-anchor="start" fill="#1a1a1a" textLength="18.8" lengthAdjust="spacingAndGlyphs" stroke="#1a1a1a" stroke-width="0.2">(μm)</text>
<text x="284.40" y="35.60" font-family='"Liberation Serif", serif' font-size="12.5" font-weight="normal" font-style="normal" text-anchor="start" fill="#1a1a1a" textLength="5.6" lengthAdjust="spacingAndGlyphs" stroke="#1a1a1a" stroke-width="0.45">b</text>
<g transform="translate(289.40,194.00) rotate(-90)">
<text x="0" y="0" font-family='"Liberation Serif", serif' font-size="9.4" font-weight="bold" fill="#1a1a1a" stroke="#1a1a1a" stroke-width="0.1" textLength="67.5" lengthAdjust="spacing">Residual stress</text>
<text x="70.60" y="0" font-family='"Liberation Serif", serif' font-size="10" font-style="italic" font-weight="bold" fill="#333">σ</text>
<text x="80.30" y="0" font-family='"Liberation Serif", serif' font-size="8.6" fill="#4a4a4a" textLength="24.70" lengthAdjust="spacingAndGlyphs">(MPa)</text>
</g>
<clipPath id="cb"><rect x="321.1" y="0" width="300" height="240"/></clipPath><g clip-path="url(#cb)">
<polyline points="321.4,196.4 332.3,191.8 343.7,182.4 355.0,177.5 366.5,173.1 377.8,169.1 389.3,162.7 401.1,154.5 412.5,141.2 423.6,133.6 434.9,130.0 446.5,127.7 454.5,125.1 461.8,123.2 469.5,112.0 474.9,103.6 481.2,93.8 486.8,81.5 492.7,67.1 498.6,59.1 504.1,55.9 508.0,48.9 511.4,46.4" fill="none" stroke="#a59e42" stroke-width="1"/>
<circle cx="321.40" cy="196.40" r="1.85" fill="#fff" stroke="#a59e42" stroke-width="0.9"/>
<circle cx="332.30" cy="191.80" r="1.85" fill="#fff" stroke="#a59e42" stroke-width="0.9"/>
<circle cx="343.70" cy="182.40" r="1.85" fill="#fff" stroke="#a59e42" stroke-width="0.9"/>
<circle cx="355.00" cy="177.50" r="1.85" fill="#fff" stroke="#a59e42" stroke-width="0.9"/>
<circle cx="366.50" cy="173.10" r="1.85" fill="#fff" stroke="#a59e42" stroke-width="0.9"/>
<circle cx="377.80" cy="169.10" r="1.85" fill="#fff" stroke="#a59e42" stroke-width="0.9"/>
<circle cx="389.30" cy="162.70" r="1.85" fill="#fff" stroke="#a59e42" stroke-width="0.9"/>
<circle cx="401.10" cy="154.50" r="1.85" fill="#fff" stroke="#a59e42" stroke-width="0.9"/>
<circle cx="412.50" cy="141.20" r="1.85" fill="#fff" stroke="#a59e42" stroke-width="0.9"/>
<circle cx="423.60" cy="133.60" r="1.85" fill="#fff" stroke="#a59e42" stroke-width="0.9"/>
<circle cx="434.90" cy="130.00" r="1.85" fill="#fff" stroke="#a59e42" stroke-width="0.9"/>
<circle cx="446.50" cy="127.70" r="1.85" fill="#fff" stroke="#a59e42" stroke-width="0.9"/>
<circle cx="454.50" cy="125.10" r="1.85" fill="#fff" stroke="#a59e42" stroke-width="0.9"/>
<circle cx="461.80" cy="123.20" r="1.85" fill="#fff" stroke="#a59e42" stroke-width="0.9"/>
<circle cx="469.50" cy="112.00" r="1.85" fill="#fff" stroke="#a59e42" stroke-width="0.9"/>
<circle cx="474.90" cy="103.60" r="1.85" fill="#fff" stroke="#a59e42" stroke-width="0.9"/>
<circle cx="481.20" cy="93.80" r="1.85" fill="#fff" stroke="#a59e42" stroke-width="0.9"/>
<circle cx="486.80" cy="81.50" r="1.85" fill="#fff" stroke="#a59e42" stroke-width="0.9"/>
<circle cx="492.70" cy="67.10" r="1.85" fill="#fff" stroke="#a59e42" stroke-width="0.9"/>
<circle cx="498.60" cy="59.10" r="1.85" fill="#fff" stroke="#a59e42" stroke-width="0.9"/>
<circle cx="504.10" cy="55.90" r="1.85" fill="#fff" stroke="#a59e42" stroke-width="0.9"/>
<circle cx="508.00" cy="48.90" r="1.85" fill="#fff" stroke="#a59e42" stroke-width="0.9"/>
<circle cx="511.40" cy="46.40" r="1.85" fill="#fff" stroke="#a59e42" stroke-width="0.9"/>
<polyline points="321.4,191.8 332.3,180.7 343.7,175.2 355.0,165.3 366.8,158.9 378.1,152.7 389.3,139.3 401.1,129.5 412.5,120.2 424.0,112.7 434.9,108.0 446.4,100.2 454.4,92.8 461.8,89.3 469.3,85.6 474.9,82.6 480.9,77.3 486.4,70.0 492.3,60.7 498.6,54.0 503.8,43.5 508.4,44.7" fill="none" stroke="#f03cf0" stroke-width="1"/>
<polygon points="321.40,189.50 322.13,190.79 323.59,191.09 322.59,192.19 322.75,193.66 321.40,193.05 320.05,193.66 320.21,192.19 319.21,191.09 320.67,190.79" fill="#f6a8f2" stroke="#f03cf0" stroke-width="1.0"/>
<polygon points="332.30,178.40 333.03,179.69 334.49,179.99 333.49,181.09 333.65,182.56 332.30,181.95 330.95,182.56 331.11,181.09 330.11,179.99 331.57,179.69" fill="#f6a8f2" stroke="#f03cf0" stroke-width="1.0"/>
<polygon points="343.70,172.90 344.43,174.19 345.89,174.49 344.89,175.59 345.05,177.06 343.70,176.45 342.35,177.06 342.51,175.59 341.51,174.49 342.97,174.19" fill="#f6a8f2" stroke="#f03cf0" stroke-width="1.0"/>
<polygon points="355.00,163.00 355.73,164.29 357.19,164.59 356.19,165.69 356.35,167.16 355.00,166.55 353.65,167.16 353.81,165.69 352.81,164.59 354.27,164.29" fill="#f6a8f2" stroke="#f03cf0" stroke-width="1.0"/>
<polygon points="366.80,156.60 367.53,157.89 368.99,158.19 367.99,159.29 368.15,160.76 366.80,160.15 365.45,160.76 365.61,159.29 364.61,158.19 366.07,157.89" fill="#f6a8f2" stroke="#f03cf0" stroke-width="1.0"/>
<polygon points="378.10,150.40 378.83,151.69 380.29,151.99 379.29,153.09 379.45,154.56 378.10,153.95 376.75,154.56 376.91,153.09 375.91,151.99 377.37,151.69" fill="#f6a8f2" stroke="#f03cf0" stroke-width="1.0"/>
<polygon points="389.30,137.00 390.03,138.29 391.49,138.59 390.49,139.69 390.65,141.16 389.30,140.55 387.95,141.16 388.11,139.69 387.11,138.59 388.57,138.29" fill="#f6a8f2" stroke="#f03cf0" stroke-width="1.0"/>
<polygon points="401.10,127.20 401.83,128.49 403.29,128.79 402.29,129.89 402.45,131.36 401.10,130.75 399.75,131.36 399.91,129.89 398.91,128.79 400.37,128.49" fill="#f6a8f2" stroke="#f03cf0" stroke-width="1.0"/>
<polygon points="412.50,117.90 413.23,119.19 414.69,119.49 413.69,120.59 413.85,122.06 412.50,121.45 411.15,122.06 411.31,120.59 410.31,119.49 411.77,119.19" fill="#f6a8f2" stroke="#f03cf0" stroke-width="1.0"/>
<polygon points="424.00,110.40 424.73,111.69 426.19,111.99 425.19,113.09 425.35,114.56 424.00,113.95 422.65,114.56 422.81,113.09 421.81,111.99 423.27,111.69" fill="#f6a8f2" stroke="#f03cf0" stroke-width="1.0"/>
<polygon points="434.90,105.70 435.63,106.99 437.09,107.29 436.09,108.39 436.25,109.86 434.90,109.25 433.55,109.86 433.71,108.39 432.71,107.29 434.17,106.99" fill="#f6a8f2" stroke="#f03cf0" stroke-width="1.0"/>
<polygon points="446.40,97.90 447.13,99.19 448.59,99.49 447.59,100.59 447.75,102.06 446.40,101.45 445.05,102.06 445.21,100.59 444.21,99.49 445.67,99.19" fill="#f6a8f2" stroke="#f03cf0" stroke-width="1.0"/>
<polygon points="454.40,90.50 455.13,91.79 456.59,92.09 455.59,93.19 455.75,94.66 454.40,94.05 453.05,94.66 453.21,93.19 452.21,92.09 453.67,91.79" fill="#f6a8f2" stroke="#f03cf0" stroke-width="1.0"/>
<polygon points="461.80,87.00 462.53,88.29 463.99,88.59 462.99,89.69 463.15,91.16 461.80,90.55 460.45,91.16 460.61,89.69 459.61,88.59 461.07,88.29" fill="#f6a8f2" stroke="#f03cf0" stroke-width="1.0"/>
<polygon points="469.30,83.30 470.03,84.59 471.49,84.89 470.49,85.99 470.65,87.46 469.30,86.85 467.95,87.46 468.11,85.99 467.11,84.89 468.57,84.59" fill="#f6a8f2" stroke="#f03cf0" stroke-width="1.0"/>
<polygon points="474.90,80.30 475.63,81.59 477.09,81.89 476.09,82.99 476.25,84.46 474.90,83.85 473.55,84.46 473.71,82.99 472.71,81.89 474.17,81.59" fill="#f6a8f2" stroke="#f03cf0" stroke-width="1.0"/>
<polygon points="480.90,75.00 481.63,76.29 483.09,76.59 482.09,77.69 482.25,79.16 480.90,78.55 479.55,79.16 479.71,77.69 478.71,76.59 480.17,76.29" fill="#f6a8f2" stroke="#f03cf0" stroke-width="1.0"/>
<polygon points="486.40,67.70 487.13,68.99 488.59,69.29 487.59,70.39 487.75,71.86 486.40,71.25 485.05,71.86 485.21,70.39 484.21,69.29 485.67,68.99" fill="#f6a8f2" stroke="#f03cf0" stroke-width="1.0"/>
<polygon points="492.30,58.40 493.03,59.69 494.49,59.99 493.49,61.09 493.65,62.56 492.30,61.95 490.95,62.56 491.11,61.09 490.11,59.99 491.57,59.69" fill="#f6a8f2" stroke="#f03cf0" stroke-width="1.0"/>
<polygon points="498.60,51.70 499.33,52.99 500.79,53.29 499.79,54.39 499.95,55.86 498.60,55.25 497.25,55.86 497.41,54.39 496.41,53.29 497.87,52.99" fill="#f6a8f2" stroke="#f03cf0" stroke-width="1.0"/>
<polygon points="503.80,41.20 504.53,42.49 505.99,42.79 504.99,43.89 505.15,45.36 503.80,44.75 502.45,45.36 502.61,43.89 501.61,42.79 503.07,42.49" fill="#f6a8f2" stroke="#f03cf0" stroke-width="1.0"/>
<polygon points="508.40,42.40 509.13,43.69 510.59,43.99 509.59,45.09 509.75,46.56 508.40,45.95 507.05,46.56 507.21,45.09 506.21,43.99 507.67,43.69" fill="#f6a8f2" stroke="#f03cf0" stroke-width="1.0"/>
<polyline points="321.4,171.6 332.3,162.0 343.7,153.1 355.0,148.7 366.8,139.1 378.1,131.3 389.5,124.3 401.4,120.5 412.6,112.7 424.0,98.2 435.5,84.2 446.9,71.8 454.2,61.0 462.2,48.3 470.0,46.4" fill="none" stroke="#24a0ae" stroke-width="1"/>
<rect x="319.65" y="169.85" width="3.50" height="3.50" fill="#fff" stroke="#24a0ae" stroke-width="1.1"/>
<rect x="330.55" y="160.25" width="3.50" height="3.50" fill="#fff" stroke="#24a0ae" stroke-width="1.1"/>
<rect x="341.95" y="151.35" width="3.50" height="3.50" fill="#fff" stroke="#24a0ae" stroke-width="1.1"/>
<rect x="353.25" y="146.95" width="3.50" height="3.50" fill="#fff" stroke="#24a0ae" stroke-width="1.1"/>
<rect x="365.05" y="137.35" width="3.50" height="3.50" fill="#fff" stroke="#24a0ae" stroke-width="1.1"/>
<rect x="376.35" y="129.55" width="3.50" height="3.50" fill="#fff" stroke="#24a0ae" stroke-width="1.1"/>
<rect x="387.75" y="122.55" width="3.50" height="3.50" fill="#fff" stroke="#24a0ae" stroke-width="1.1"/>
<rect x="399.65" y="118.75" width="3.50" height="3.50" fill="#fff" stroke="#24a0ae" stroke-width="1.1"/>
<rect x="410.85" y="110.95" width="3.50" height="3.50" fill="#fff" stroke="#24a0ae" stroke-width="1.1"/>
<rect x="422.25" y="96.45" width="3.50" height="3.50" fill="#fff" stroke="#24a0ae" stroke-width="1.1"/>
<rect x="433.75" y="82.45" width="3.50" height="3.50" fill="#fff" stroke="#24a0ae" stroke-width="1.1"/>
<rect x="445.15" y="70.05" width="3.50" height="3.50" fill="#fff" stroke="#24a0ae" stroke-width="1.1"/>
<rect x="452.45" y="59.25" width="3.50" height="3.50" fill="#fff" stroke="#24a0ae" stroke-width="1.1"/>
<rect x="460.45" y="46.55" width="3.50" height="3.50" fill="#fff" stroke="#24a0ae" stroke-width="1.1"/>
<rect x="468.25" y="44.65" width="3.50" height="3.50" fill="#fff" stroke="#24a0ae" stroke-width="1.1"/>
<polyline points="321.4,159.2 332.3,152.7 343.7,140.9 355.0,134.0 366.8,126.9 378.1,118.3 389.5,110.0 401.4,105.7 412.6,97.5 423.6,85.8 435.5,76.4 446.9,63.6 454.2,48.5 462.2,45.5" fill="none" stroke="#1414f0" stroke-width="1"/>
<path d="M321.40 156.45L324.15 161.26L318.65 161.26Z" fill="#1414f0"/>
<path d="M332.30 149.95L335.05 154.76L329.55 154.76Z" fill="#1414f0"/>
<path d="M343.70 138.15L346.45 142.96L340.95 142.96Z" fill="#1414f0"/>
<path d="M355.00 131.25L357.75 136.06L352.25 136.06Z" fill="#1414f0"/>
<path d="M366.80 124.15L369.55 128.96L364.05 128.96Z" fill="#1414f0"/>
<path d="M378.10 115.55L380.85 120.36L375.35 120.36Z" fill="#1414f0"/>
<path d="M389.50 107.25L392.25 112.06L386.75 112.06Z" fill="#1414f0"/>
<path d="M401.40 102.95L404.15 107.76L398.65 107.76Z" fill="#1414f0"/>
<path d="M412.60 94.75L415.35 99.56L409.85 99.56Z" fill="#1414f0"/>
<path d="M423.60 83.05L426.35 87.86L420.85 87.86Z" fill="#1414f0"/>
<path d="M435.50 73.65L438.25 78.46L432.75 78.46Z" fill="#1414f0"/>
<path d="M446.90 60.85L449.65 65.66L444.15 65.66Z" fill="#1414f0"/>
<path d="M454.20 45.75L456.95 50.56L451.45 50.56Z" fill="#1414f0"/>
<path d="M462.20 42.75L464.95 47.56L459.45 47.56Z" fill="#1414f0"/>
<polyline points="321.4,147.3 332.3,141.5 343.7,134.5 355.0,125.5 366.8,118.0 378.1,110.2 389.5,101.5 401.4,87.3 412.6,77.3 423.8,66.9 435.5,62.2 446.9,54.0 454.2,45.5" fill="none" stroke="#f5141e" stroke-width="1"/>
<circle cx="321.40" cy="147.30" r="2.25" fill="#f5141e"/>
<circle cx="332.30" cy="141.50" r="2.25" fill="#f5141e"/>
<circle cx="343.70" cy="134.50" r="2.25" fill="#f5141e"/>
<circle cx="355.00" cy="125.50" r="2.25" fill="#f5141e"/>
<circle cx="366.80" cy="118.00" r="2.25" fill="#f5141e"/>
<circle cx="378.10" cy="110.20" r="2.25" fill="#f5141e"/>
<circle cx="389.50" cy="101.50" r="2.25" fill="#f5141e"/>
<circle cx="401.40" cy="87.30" r="2.25" fill="#f5141e"/>
<circle cx="412.60" cy="77.30" r="2.25" fill="#f5141e"/>
<circle cx="423.80" cy="66.90" r="2.25" fill="#f5141e"/>
<circle cx="435.50" cy="62.20" r="2.25" fill="#f5141e"/>
<circle cx="446.90" cy="54.00" r="2.25" fill="#f5141e"/>
<circle cx="454.20" cy="45.50" r="2.25" fill="#f5141e"/>
<polyline points="321.4,138.5 332.3,132.4 343.7,122.7 355.0,116.5 366.8,104.0 378.1,97.8 389.5,85.5 401.4,77.1 412.6,64.9 424.0,57.3 435.5,50.5 446.4,46.7" fill="none" stroke="#000000" stroke-width="1"/>
<rect x="319.45" y="136.55" width="3.90" height="3.90" fill="#000000"/>
<rect x="330.35" y="130.45" width="3.90" height="3.90" fill="#000000"/>
<rect x="341.75" y="120.75" width="3.90" height="3.90" fill="#000000"/>
<rect x="353.05" y="114.55" width="3.90" height="3.90" fill="#000000"/>
<rect x="364.85" y="102.05" width="3.90" height="3.90" fill="#000000"/>
<rect x="376.15" y="95.85" width="3.90" height="3.90" fill="#000000"/>
<rect x="387.55" y="83.55" width="3.90" height="3.90" fill="#000000"/>
<rect x="399.45" y="75.15" width="3.90" height="3.90" fill="#000000"/>
<rect x="410.65" y="62.95" width="3.90" height="3.90" fill="#000000"/>
<rect x="422.05" y="55.35" width="3.90" height="3.90" fill="#000000"/>
<rect x="433.55" y="48.55" width="3.90" height="3.90" fill="#000000"/>
<rect x="444.45" y="44.75" width="3.90" height="3.90" fill="#000000"/>
</g>
<line x1="423.6" y1="149.00" x2="439.8" y2="149.00" stroke="#000000" stroke-width="1.2"/>
<rect x="430.25" y="147.25" width="3.51" height="3.51" fill="#000000"/>
<text x="445.50" y="150.70" font-family='"Liberation Serif", serif' font-size="10" font-weight="normal" font-style="normal" text-anchor="start" fill="#333" stroke="#333" stroke-width="0.2">σ</text>
<text x="450.20" y="153.10" font-family='"Liberation Serif", serif' font-size="6.6" font-weight="normal" font-style="normal" text-anchor="start" fill="#333" stroke="#333" stroke-width="0.35">w</text>
<text y="149.50" font-family='"Liberation Serif", serif' font-size="9.8" fill="#222" stroke="#222" stroke-width="0.2"><tspan x="473.20" font-style="italic" font-size="10.5">v</tspan><tspan x="477.30" font-style="italic" font-size="6.4" dy="3.3">f</tspan><tspan x="480.10" dy="-3.3">=</tspan><tspan x="487.20" textLength="9.2" lengthAdjust="spacingAndGlyphs">15</tspan><tspan x="498.40" textLength="20.60" lengthAdjust="spacingAndGlyphs">r/min</tspan></text>
<line x1="423.6" y1="159.50" x2="439.8" y2="159.50" stroke="#f5141e" stroke-width="1.2"/>
<circle cx="432.00" cy="159.50" r="2.02" fill="#f5141e"/>
<text x="445.50" y="161.20" font-family='"Liberation Serif", serif' font-size="10" font-weight="normal" font-style="normal" text-anchor="start" fill="#333" stroke="#333" stroke-width="0.2">σ</text>
<text x="450.20" y="163.60" font-family='"Liberation Serif", serif' font-size="6.6" font-weight="normal" font-style="normal" text-anchor="start" fill="#333" stroke="#333" stroke-width="0.35">e</text>
<text y="160.90" font-family='"Liberation Serif", serif' font-size="9.8" fill="#222" stroke="#222" stroke-width="0.2"><tspan x="473.60" font-style="italic" font-size="10.5">v</tspan><tspan x="477.68" font-style="italic" font-size="6.4" dy="3.3">f</tspan><tspan x="480.47" dy="-3.3">=</tspan><tspan x="487.54" textLength="9.2" lengthAdjust="spacingAndGlyphs">15</tspan><tspan x="498.69" textLength="20.51" lengthAdjust="spacingAndGlyphs">r/min</tspan></text>
<line x1="423.6" y1="170.30" x2="439.8" y2="170.30" stroke="#1414f0" stroke-width="1.2"/>
<path d="M432.00 167.83L434.48 172.16L429.52 172.16Z" fill="#1414f0"/>
<text x="445.50" y="172.00" font-family='"Liberation Serif", serif' font-size="10" font-weight="normal" font-style="normal" text-anchor="start" fill="#333" stroke="#333" stroke-width="0.2">σ</text>
<text x="450.20" y="174.40" font-family='"Liberation Serif", serif' font-size="6.6" font-weight="normal" font-style="normal" text-anchor="start" fill="#333" stroke="#333" stroke-width="0.35">w</text>
<text y="171.80" font-family='"Liberation Serif", serif' font-size="9.8" fill="#222" stroke="#222" stroke-width="0.2"><tspan x="473.80" font-style="italic" font-size="10.5">v</tspan><tspan x="477.88" font-style="italic" font-size="6.4" dy="3.3">f</tspan><tspan x="480.67" dy="-3.3">=</tspan><tspan x="487.74" textLength="9.2" lengthAdjust="spacingAndGlyphs">35</tspan><tspan x="498.89" textLength="20.51" lengthAdjust="spacingAndGlyphs">r/min</tspan></text>
<line x1="423.6" y1="181.30" x2="439.8" y2="181.30" stroke="#24a0ae" stroke-width="1.2"/>
<rect x="430.43" y="179.73" width="3.15" height="3.15" fill="#fff" stroke="#24a0ae" stroke-width="1.1"/>
<text x="445.50" y="183.00" font-family='"Liberation Serif", serif' font-size="10" font-weight="normal" font-style="normal" text-anchor="start" fill="#333" stroke="#333" stroke-width="0.2">σ</text>
<text x="450.20" y="185.40" font-family='"Liberation Serif", serif' font-size="6.6" font-weight="normal" font-style="normal" text-anchor="start" fill="#333" stroke="#333" stroke-width="0.35">e</text>
<text y="182.70" font-family='"Liberation Serif", serif' font-size="9.8" fill="#222" stroke="#222" stroke-width="0.2"><tspan x="474.00" font-style="italic" font-size="10.5">v</tspan><tspan x="478.08" font-style="italic" font-size="6.4" dy="3.3">f</tspan><tspan x="480.87" dy="-3.3">=</tspan><tspan x="487.94" textLength="9.2" lengthAdjust="spacingAndGlyphs">35</tspan><tspan x="499.09" textLength="20.51" lengthAdjust="spacingAndGlyphs">r/min</tspan></text>
<line x1="423.6" y1="192.20" x2="439.8" y2="192.20" stroke="#f03cf0" stroke-width="1.2"/>
<polygon points="432.00,190.13 432.66,191.29 433.97,191.56 433.07,192.55 433.22,193.87 432.00,193.32 430.78,193.87 430.93,192.55 430.03,191.56 431.34,191.29" fill="#f6a8f2" stroke="#f03cf0" stroke-width="1.0"/>
<text x="445.50" y="193.90" font-family='"Liberation Serif", serif' font-size="10" font-weight="normal" font-style="normal" text-anchor="start" fill="#333" stroke="#333" stroke-width="0.2">σ</text>
<text x="450.20" y="196.30" font-family='"Liberation Serif", serif' font-size="6.6" font-weight="normal" font-style="normal" text-anchor="start" fill="#333" stroke="#333" stroke-width="0.35">w</text>
<text y="194.70" font-family='"Liberation Serif", serif' font-size="9.8" fill="#222" stroke="#222" stroke-width="0.2"><tspan x="474.60" font-style="italic" font-size="10.5">v</tspan><tspan x="478.63" font-style="italic" font-size="6.4" dy="3.3">f</tspan><tspan x="481.38" dy="-3.3">=</tspan><tspan x="488.36" textLength="9.2" lengthAdjust="spacingAndGlyphs">55</tspan><tspan x="499.36" textLength="20.24" lengthAdjust="spacingAndGlyphs">r/min</tspan></text>
<line x1="423.6" y1="203.10" x2="439.8" y2="203.10" stroke="#a59e42" stroke-width="1.2"/>
<circle cx="432.00" cy="203.10" r="1.67" fill="#fff" stroke="#a59e42" stroke-width="0.9"/>
<text x="445.50" y="204.80" font-family='"Liberation Serif", serif' font-size="10" font-weight="normal" font-style="normal" text-anchor="start" fill="#333" stroke="#333" stroke-width="0.2">σ</text>
<text x="450.20" y="207.20" font-family='"Liberation Serif", serif' font-size="6.6" font-weight="normal" font-style="normal" text-anchor="start" fill="#333" stroke="#333" stroke-width="0.35">e</text>
<text y="207.80" font-family='"Liberation Serif", serif' font-size="9.8" fill="#222" stroke="#222" stroke-width="0.2"><tspan x="475.40" font-style="italic" font-size="10.5">v</tspan><tspan x="479.41" font-style="italic" font-size="6.4" dy="3.3">f</tspan><tspan x="482.15" dy="-3.3">=</tspan><tspan x="489.09" textLength="9.2" lengthAdjust="spacingAndGlyphs">55</tspan><tspan x="500.05" textLength="20.15" lengthAdjust="spacingAndGlyphs">r/min</tspan></text>
<rect x="423.6" y="144.4" width="16.099999999999966" height="8.900000000000006" fill="none" stroke="#e23a2a" stroke-width="1"/>
<line x1="197.7" y1="260.5" x2="411.6" y2="260.5" stroke="#000" stroke-width="1.55"/>
<line x1="198.5" y1="245.0" x2="198.5" y2="433.0" stroke="#000" stroke-width="1.75"/>
<line x1="214.95" y1="260.5" x2="214.95" y2="256.9" stroke="#000" stroke-width="1.2"/>
<line x1="231.40" y1="260.5" x2="231.40" y2="256.9" stroke="#000" stroke-width="1.2"/>
<line x1="247.85" y1="260.5" x2="247.85" y2="256.9" stroke="#000" stroke-width="1.2"/>
<line x1="264.30" y1="260.5" x2="264.30" y2="256.9" stroke="#000" stroke-width="1.2"/>
<line x1="280.75" y1="260.5" x2="280.75" y2="256.9" stroke="#000" stroke-width="1.2"/>
<line x1="297.20" y1="260.5" x2="297.20" y2="256.9" stroke="#000" stroke-width="1.2"/>
<line x1="313.65" y1="260.5" x2="313.65" y2="256.9" stroke="#000" stroke-width="1.2"/>
<line x1="330.10" y1="260.5" x2="330.10" y2="256.9" stroke="#000" stroke-width="1.2"/>
<line x1="346.55" y1="260.5" x2="346.55" y2="256.9" stroke="#000" stroke-width="1.2"/>
<line x1="363.00" y1="260.5" x2="363.00" y2="256.9" stroke="#000" stroke-width="1.2"/>
<line x1="379.45" y1="260.5" x2="379.45" y2="256.9" stroke="#000" stroke-width="1.2"/>
<line x1="395.90" y1="260.5" x2="395.90" y2="256.9" stroke="#000" stroke-width="1.2"/>
<line x1="412.35" y1="260.5" x2="412.35" y2="256.9" stroke="#000" stroke-width="1.2"/>
<line x1="206.72" y1="260.5" x2="206.72" y2="258.3" stroke="#000" stroke-width="1"/>
<line x1="223.18" y1="260.5" x2="223.18" y2="258.3" stroke="#000" stroke-width="1"/>
<line x1="239.62" y1="260.5" x2="239.62" y2="258.3" stroke="#000" stroke-width="1"/>
<line x1="256.07" y1="260.5" x2="256.07" y2="258.3" stroke="#000" stroke-width="1"/>
<line x1="272.52" y1="260.5" x2="272.52" y2="258.3" stroke="#000" stroke-width="1"/>
<line x1="288.98" y1="260.5" x2="288.98" y2="258.3" stroke="#000" stroke-width="1"/>
<line x1="305.43" y1="260.5" x2="305.43" y2="258.3" stroke="#000" stroke-width="1"/>
<line x1="321.88" y1="260.5" x2="321.88" y2="258.3" stroke="#000" stroke-width="1"/>
<line x1="338.33" y1="260.5" x2="338.33" y2="258.3" stroke="#000" stroke-width="1"/>
<line x1="354.77" y1="260.5" x2="354.77" y2="258.3" stroke="#000" stroke-width="1"/>
<line x1="371.23" y1="260.5" x2="371.23" y2="258.3" stroke="#000" stroke-width="1"/>
<line x1="387.68" y1="260.5" x2="387.68" y2="258.3" stroke="#000" stroke-width="1"/>
<line x1="404.12" y1="260.5" x2="404.12" y2="258.3" stroke="#000" stroke-width="1"/>
<line x1="198.5" y1="244.88" x2="194.9" y2="244.88" stroke="#000" stroke-width="1.2"/>
<line x1="198.5" y1="260.50" x2="194.9" y2="260.50" stroke="#000" stroke-width="1.2"/>
<line x1="198.5" y1="276.12" x2="194.9" y2="276.12" stroke="#000" stroke-width="1.2"/>
<line x1="198.5" y1="291.74" x2="194.9" y2="291.74" stroke="#000" stroke-width="1.2"/>
<line x1="198.5" y1="307.36" x2="194.9" y2="307.36" stroke="#000" stroke-width="1.2"/>
<line x1="198.5" y1="322.98" x2="194.9" y2="322.98" stroke="#000" stroke-width="1.2"/>
<line x1="198.5" y1="338.60" x2="194.9" y2="338.60" stroke="#000" stroke-width="1.2"/>
<line x1="198.5" y1="354.22" x2="194.9" y2="354.22" stroke="#000" stroke-width="1.2"/>
<line x1="198.5" y1="369.84" x2="194.9" y2="369.84" stroke="#000" stroke-width="1.2"/>
<line x1="198.5" y1="385.46" x2="194.9" y2="385.46" stroke="#000" stroke-width="1.2"/>
<line x1="198.5" y1="401.08" x2="194.9" y2="401.08" stroke="#000" stroke-width="1.2"/>
<line x1="198.5" y1="416.70" x2="194.9" y2="416.70" stroke="#000" stroke-width="1.2"/>
<line x1="198.5" y1="432.32" x2="194.9" y2="432.32" stroke="#000" stroke-width="1.2"/>
<line x1="198.5" y1="252.69" x2="196.3" y2="252.69" stroke="#000" stroke-width="1"/>
<line x1="198.5" y1="268.31" x2="196.3" y2="268.31" stroke="#000" stroke-width="1"/>
<line x1="198.5" y1="283.93" x2="196.3" y2="283.93" stroke="#000" stroke-width="1"/>
<line x1="198.5" y1="299.55" x2="196.3" y2="299.55" stroke="#000" stroke-width="1"/>
<line x1="198.5" y1="315.17" x2="196.3" y2="315.17" stroke="#000" stroke-width="1"/>
<line x1="198.5" y1="330.79" x2="196.3" y2="330.79" stroke="#000" stroke-width="1"/>
<line x1="198.5" y1="346.41" x2="196.3" y2="346.41" stroke="#000" stroke-width="1"/>
<line x1="198.5" y1="362.03" x2="196.3" y2="362.03" stroke="#000" stroke-width="1"/>
<line x1="198.5" y1="377.65" x2="196.3" y2="377.65" stroke="#000" stroke-width="1"/>
<line x1="198.5" y1="393.27" x2="196.3" y2="393.27" stroke="#000" stroke-width="1"/>
<line x1="198.5" y1="408.89" x2="196.3" y2="408.89" stroke="#000" stroke-width="1"/>
<line x1="198.5" y1="424.51" x2="196.3" y2="424.51" stroke="#000" stroke-width="1"/>
<ellipse cx="198.5" cy="250.8" rx="1.4" ry="2.6" fill="#1c2a3a"/>
<text x="214.95" y="255.60" font-family='"Liberation Serif", serif' font-size="9.3" font-weight="normal" font-style="normal" text-anchor="middle" fill="#2a2a2a" textLength="7.5" lengthAdjust="spacingAndGlyphs" stroke="#2a2a2a" stroke-width="0.35">50</text>
<text x="231.40" y="255.60" font-family='"Liberation Serif", serif' font-size="9.3" font-weight="normal" font-style="normal" text-anchor="middle" fill="#2a2a2a" textLength="11.2" lengthAdjust="spacingAndGlyphs" stroke="#2a2a2a" stroke-width="0.35">100</text>
<text x="247.85" y="255.60" font-family='"Liberation Serif", serif' font-size="9.3" font-weight="normal" font-style="normal" text-anchor="middle" fill="#2a2a2a" textLength="11.2" lengthAdjust="spacingAndGlyphs" stroke="#2a2a2a" stroke-width="0.35">150</text>
<text x="264.30" y="255.60" font-family='"Liberation Serif", serif' font-size="9.3" font-weight="normal" font-style="normal" text-anchor="middle" fill="#2a2a2a" textLength="11.2" lengthAdjust="spacingAndGlyphs" stroke="#2a2a2a" stroke-width="0.35">200</text>
<text x="280.75" y="255.60" font-family='"Liberation Serif", serif' font-size="9.3" font-weight="normal" font-style="normal" text-anchor="middle" fill="#2a2a2a" textLength="11.2" lengthAdjust="spacingAndGlyphs" stroke="#2a2a2a" stroke-width="0.35">250</text>
<text x="297.20" y="255.60" font-family='"Liberation Serif", serif' font-size="9.3" font-weight="normal" font-style="normal" text-anchor="middle" fill="#2a2a2a" textLength="11.2" lengthAdjust="spacingAndGlyphs" stroke="#2a2a2a" stroke-width="0.35">300</text>
<text x="313.65" y="255.60" font-family='"Liberation Serif", serif' font-size="9.3" font-weight="normal" font-style="normal" text-anchor="middle" fill="#2a2a2a" textLength="11.2" lengthAdjust="spacingAndGlyphs" stroke="#2a2a2a" stroke-width="0.35">350</text>
<text x="330.10" y="255.60" font-family='"Liberation Serif", serif' font-size="9.3" font-weight="normal" font-style="normal" text-anchor="middle" fill="#2a2a2a" textLength="11.2" lengthAdjust="spacingAndGlyphs" stroke="#2a2a2a" stroke-width="0.35">400</text>
<text x="346.55" y="255.60" font-family='"Liberation Serif", serif' font-size="9.3" font-weight="normal" font-style="normal" text-anchor="middle" fill="#2a2a2a" textLength="11.2" lengthAdjust="spacingAndGlyphs" stroke="#2a2a2a" stroke-width="0.35">450</text>
<text x="363.00" y="255.60" font-family='"Liberation Serif", serif' font-size="9.3" font-weight="normal" font-style="normal" text-anchor="middle" fill="#2a2a2a" textLength="11.2" lengthAdjust="spacingAndGlyphs" stroke="#2a2a2a" stroke-width="0.35">500</text>
<text x="379.45" y="255.60" font-family='"Liberation Serif", serif' font-size="9.3" font-weight="normal" font-style="normal" text-anchor="middle" fill="#2a2a2a" textLength="11.2" lengthAdjust="spacingAndGlyphs" stroke="#2a2a2a" stroke-width="0.35">550</text>
<text x="395.90" y="255.60" font-family='"Liberation Serif", serif' font-size="9.3" font-weight="normal" font-style="normal" text-anchor="middle" fill="#2a2a2a" textLength="11.2" lengthAdjust="spacingAndGlyphs" stroke="#2a2a2a" stroke-width="0.35">600</text>
<text x="412.35" y="255.60" font-family='"Liberation Serif", serif' font-size="9.3" font-weight="normal" font-style="normal" text-anchor="middle" fill="#2a2a2a" textLength="11.2" lengthAdjust="spacingAndGlyphs" stroke="#2a2a2a" stroke-width="0.35">650</text>
<text x="181.10" y="249.10" font-family='"Liberation Serif", serif' font-size="9.3" font-weight="normal" font-style="normal" text-anchor="start" fill="#2a2a2a" textLength="12.0" lengthAdjust="spacingAndGlyphs" stroke="#2a2a2a" stroke-width="0.35">100</text>
<text x="189.10" y="264.44" font-family='"Liberation Serif", serif' font-size="9.3" font-weight="normal" font-style="normal" text-anchor="start" fill="#2a2a2a" textLength="4.0" lengthAdjust="spacingAndGlyphs" stroke="#2a2a2a" stroke-width="0.35">0</text>
<text x="177.30" y="279.78" font-family='"Liberation Serif", serif' font-size="9.3" font-weight="normal" font-style="normal" text-anchor="start" fill="#2a2a2a" textLength="17.0" lengthAdjust="spacingAndGlyphs" stroke="#2a2a2a" stroke-width="0.35">−100</text>
<text x="177.30" y="295.12" font-family='"Liberation Serif", serif' font-size="9.3" font-weight="normal" font-style="normal" text-anchor="start" fill="#2a2a2a" textLength="17.0" lengthAdjust="spacingAndGlyphs" stroke="#2a2a2a" stroke-width="0.35">−200</text>
<text x="177.30" y="310.46" font-family='"Liberation Serif", serif' font-size="9.3" font-weight="normal" font-style="normal" text-anchor="start" fill="#2a2a2a" textLength="17.0" lengthAdjust="spacingAndGlyphs" stroke="#2a2a2a" stroke-width="0.35">−300</text>
<text x="177.30" y="325.80" font-family='"Liberation Serif", serif' font-size="9.3" font-weight="normal" font-style="normal" text-anchor="start" fill="#2a2a2a" textLength="17.0" lengthAdjust="spacingAndGlyphs" stroke="#2a2a2a" stroke-width="0.35">−400</text>
<text x="177.30" y="341.14" font-family='"Liberation Serif", serif' font-size="9.3" font-weight="normal" font-style="normal" text-anchor="start" fill="#2a2a2a" textLength="17.0" lengthAdjust="spacingAndGlyphs" stroke="#2a2a2a" stroke-width="0.35">−500</text>
<text x="177.30" y="356.48" font-family='"Liberation Serif", serif' font-size="9.3" font-weight="normal" font-style="normal" text-anchor="start" fill="#2a2a2a" textLength="17.0" lengthAdjust="spacingAndGlyphs" stroke="#2a2a2a" stroke-width="0.35">−600</text>
<text x="177.30" y="371.82" font-family='"Liberation Serif", serif' font-size="9.3" font-weight="normal" font-style="normal" text-anchor="start" fill="#2a2a2a" textLength="17.0" lengthAdjust="spacingAndGlyphs" stroke="#2a2a2a" stroke-width="0.35">−700</text>
<text x="177.30" y="387.16" font-family='"Liberation Serif", serif' font-size="9.3" font-weight="normal" font-style="normal" text-anchor="start" fill="#2a2a2a" textLength="17.0" lengthAdjust="spacingAndGlyphs" stroke="#2a2a2a" stroke-width="0.35">−800</text>
<text x="177.30" y="402.50" font-family='"Liberation Serif", serif' font-size="9.3" font-weight="normal" font-style="normal" text-anchor="start" fill="#2a2a2a" textLength="17.0" lengthAdjust="spacingAndGlyphs" stroke="#2a2a2a" stroke-width="0.35">−900</text>
<text x="173.30" y="417.84" font-family='"Liberation Serif", serif' font-size="9.3" font-weight="normal" font-style="normal" text-anchor="start" fill="#2a2a2a" textLength="21.0" lengthAdjust="spacingAndGlyphs" stroke="#2a2a2a" stroke-width="0.35">−1000</text>
<text x="173.30" y="433.18" font-family='"Liberation Serif", serif' font-size="9.3" font-weight="normal" font-style="normal" text-anchor="start" fill="#2a2a2a" textLength="21.0" lengthAdjust="spacingAndGlyphs" stroke="#2a2a2a" stroke-width="0.35">−1100</text>
<text x="240.60" y="240.00" font-family='"Liberation Sans", sans-serif' font-size="11" font-weight="bold" font-style="normal" text-anchor="start" fill="#1a1a1a" textLength="65.4" lengthAdjust="spacingAndGlyphs" stroke="#1a1a1a" stroke-width="0.25">Subsurface depth</text>
<text x="310.80" y="240.00" font-family='"Liberation Serif", serif' font-size="10.5" font-weight="normal" font-style="italic" text-anchor="start" fill="#1a1a1a" stroke="#1a1a1a" stroke-width="0.3">h</text>
<text x="317.50" y="240.00" font-family='"Liberation Serif", serif' font-size="10.5" font-weight="normal" font-style="normal" text-anchor="start" fill="#1a1a1a" textLength="18.1" lengthAdjust="spacingAndGlyphs" stroke="#1a1a1a" stroke-width="0.2">(μm)</text>
<text x="163.40" y="263.30" font-family='"Liberation Sans", sans-serif' font-size="11" font-weight="bold" font-style="normal" text-anchor="start" fill="#1a1a1a" textLength="5.0" lengthAdjust="spacingAndGlyphs">c</text>
<g transform="translate(167.00,410.80) rotate(-90)">
<text x="0" y="0" font-family='"Liberation Serif", serif' font-size="9.4" font-weight="bold" fill="#1a1a1a" stroke="#1a1a1a" stroke-width="0.1" textLength="67.5" lengthAdjust="spacing">Residual stress</text>
<text x="70.50" y="0" font-family='"Liberation Serif", serif' font-size="10" font-style="italic" font-weight="bold" fill="#333">σ</text>
<text x="80.80" y="0" font-family='"Liberation Serif", serif' font-size="8.6" fill="#4a4a4a" textLength="24.70" lengthAdjust="spacingAndGlyphs">(MPa)</text>
</g>
<clipPath id="cc"><rect x="199.1" y="230" width="300" height="216"/></clipPath><g clip-path="url(#cc)">
<polyline points="199.1,413.3 208.7,408.2 218.5,403.6 228.2,396.4 238.2,389.1 248.2,384.2 257.8,376.8 267.6,370.5 277.4,366.3 286.9,357.4 297.1,352.9 306.7,347.3 313.6,340.5 319.7,336.6 326.3,332.2 331.2,324.9 336.0,319.8 340.8,316.2 345.7,312.1 350.8,307.8 356.1,305.8 358.8,299.8 362.6,293.8 367.2,286.9 372.3,279.6 377.5,276.7 382.3,268.3 386.9,263.4 391.8,261.2" fill="none" stroke="#a59e42" stroke-width="1"/>
<circle cx="199.10" cy="413.30" r="1.85" fill="#fff" stroke="#a59e42" stroke-width="0.9"/>
<circle cx="208.70" cy="408.20" r="1.85" fill="#fff" stroke="#a59e42" stroke-width="0.9"/>
<circle cx="218.50" cy="403.60" r="1.85" fill="#fff" stroke="#a59e42" stroke-width="0.9"/>
<circle cx="228.20" cy="396.40" r="1.85" fill="#fff" stroke="#a59e42" stroke-width="0.9"/>
<circle cx="238.20" cy="389.10" r="1.85" fill="#fff" stroke="#a59e42" stroke-width="0.9"/>
<circle cx="248.20" cy="384.20" r="1.85" fill="#fff" stroke="#a59e42" stroke-width="0.9"/>
<circle cx="257.80" cy="376.80" r="1.85" fill="#fff" stroke="#a59e42" stroke-width="0.9"/>
<circle cx="267.60" cy="370.50" r="1.85" fill="#fff" stroke="#a59e42" stroke-width="0.9"/>
<circle cx="277.40" cy="366.30" r="1.85" fill="#fff" stroke="#a59e42" stroke-width="0.9"/>
<circle cx="286.90" cy="357.40" r="1.85" fill="#fff" stroke="#a59e42" stroke-width="0.9"/>
<circle cx="297.10" cy="352.90" r="1.85" fill="#fff" stroke="#a59e42" stroke-width="0.9"/>
<circle cx="306.70" cy="347.30" r="1.85" fill="#fff" stroke="#a59e42" stroke-width="0.9"/>
<circle cx="313.60" cy="340.50" r="1.85" fill="#fff" stroke="#a59e42" stroke-width="0.9"/>
<circle cx="319.70" cy="336.60" r="1.85" fill="#fff" stroke="#a59e42" stroke-width="0.9"/>
<circle cx="326.30" cy="332.20" r="1.85" fill="#fff" stroke="#a59e42" stroke-width="0.9"/>
<circle cx="331.20" cy="324.90" r="1.85" fill="#fff" stroke="#a59e42" stroke-width="0.9"/>
<circle cx="336.00" cy="319.80" r="1.85" fill="#fff" stroke="#a59e42" stroke-width="0.9"/>
<circle cx="340.80" cy="316.20" r="1.85" fill="#fff" stroke="#a59e42" stroke-width="0.9"/>
<circle cx="345.70" cy="312.10" r="1.85" fill="#fff" stroke="#a59e42" stroke-width="0.9"/>
<circle cx="350.80" cy="307.80" r="1.85" fill="#fff" stroke="#a59e42" stroke-width="0.9"/>
<circle cx="356.10" cy="305.80" r="1.85" fill="#fff" stroke="#a59e42" stroke-width="0.9"/>
<circle cx="358.80" cy="299.80" r="1.85" fill="#fff" stroke="#a59e42" stroke-width="0.9"/>
<circle cx="362.60" cy="293.80" r="1.85" fill="#fff" stroke="#a59e42" stroke-width="0.9"/>
<circle cx="367.20" cy="286.90" r="1.85" fill="#fff" stroke="#a59e42" stroke-width="0.9"/>
<circle cx="372.30" cy="279.60" r="1.85" fill="#fff" stroke="#a59e42" stroke-width="0.9"/>
<circle cx="377.50" cy="276.70" r="1.85" fill="#fff" stroke="#a59e42" stroke-width="0.9"/>
<circle cx="382.30" cy="268.30" r="1.85" fill="#fff" stroke="#a59e42" stroke-width="0.9"/>
<circle cx="386.90" cy="263.40" r="1.85" fill="#fff" stroke="#a59e42" stroke-width="0.9"/>
<circle cx="391.80" cy="261.20" r="1.85" fill="#fff" stroke="#a59e42" stroke-width="0.9"/>
<polyline points="199.1,404.5 208.7,400.9 218.5,398.7 228.2,391.3 238.2,385.5 248.0,380.3 257.8,372.2 267.5,367.9 277.3,364.2 287.0,357.5 297.0,350.2 306.7,345.0 313.6,338.5 320.0,336.0 326.3,333.6 331.2,329.3 336.0,326.4 340.8,322.7 345.7,317.6 350.8,312.0 355.5,309.5 359.2,304.1 362.3,297.8 367.2,292.0 372.3,284.0 377.5,271.0 382.3,263.5 386.8,261.0" fill="none" stroke="#f03cf0" stroke-width="1"/>
<polygon points="199.10,402.20 199.83,403.49 201.29,403.79 200.29,404.89 200.45,406.36 199.10,405.75 197.75,406.36 197.91,404.89 196.91,403.79 198.37,403.49" fill="#f6a8f2" stroke="#f03cf0" stroke-width="1.0"/>
<polygon points="208.70,398.60 209.43,399.89 210.89,400.19 209.89,401.29 210.05,402.76 208.70,402.15 207.35,402.76 207.51,401.29 206.51,400.19 207.97,399.89" fill="#f6a8f2" stroke="#f03cf0" stroke-width="1.0"/>
<polygon points="218.50,396.40 219.23,397.69 220.69,397.99 219.69,399.09 219.85,400.56 218.50,399.95 217.15,400.56 217.31,399.09 216.31,397.99 217.77,397.69" fill="#f6a8f2" stroke="#f03cf0" stroke-width="1.0"/>
<polygon points="228.20,389.00 228.93,390.29 230.39,390.59 229.39,391.69 229.55,393.16 228.20,392.55 226.85,393.16 227.01,391.69 226.01,390.59 227.47,390.29" fill="#f6a8f2" stroke="#f03cf0" stroke-width="1.0"/>
<polygon points="238.20,383.20 238.93,384.49 240.39,384.79 239.39,385.89 239.55,387.36 238.20,386.75 236.85,387.36 237.01,385.89 236.01,384.79 237.47,384.49" fill="#f6a8f2" stroke="#f03cf0" stroke-width="1.0"/>
<polygon points="248.00,378.00 248.73,379.29 250.19,379.59 249.19,380.69 249.35,382.16 248.00,381.55 246.65,382.16 246.81,380.69 245.81,379.59 247.27,379.29" fill="#f6a8f2" stroke="#f03cf0" stroke-width="1.0"/>
<polygon points="257.80,369.90 258.53,371.19 259.99,371.49 258.99,372.59 259.15,374.06 257.80,373.45 256.45,374.06 256.61,372.59 255.61,371.49 257.07,371.19" fill="#f6a8f2" stroke="#f03cf0" stroke-width="1.0"/>
<polygon points="267.50,365.60 268.23,366.89 269.69,367.19 268.69,368.29 268.85,369.76 267.50,369.15 266.15,369.76 266.31,368.29 265.31,367.19 266.77,366.89" fill="#f6a8f2" stroke="#f03cf0" stroke-width="1.0"/>
<polygon points="277.30,361.90 278.03,363.19 279.49,363.49 278.49,364.59 278.65,366.06 277.30,365.45 275.95,366.06 276.11,364.59 275.11,363.49 276.57,363.19" fill="#f6a8f2" stroke="#f03cf0" stroke-width="1.0"/>
<polygon points="287.00,355.20 287.73,356.49 289.19,356.79 288.19,357.89 288.35,359.36 287.00,358.75 285.65,359.36 285.81,357.89 284.81,356.79 286.27,356.49" fill="#f6a8f2" stroke="#f03cf0" stroke-width="1.0"/>
<polygon points="297.00,347.90 297.73,349.19 299.19,349.49 298.19,350.59 298.35,352.06 297.00,351.45 295.65,352.06 295.81,350.59 294.81,349.49 296.27,349.19" fill="#f6a8f2" stroke="#f03cf0" stroke-width="1.0"/>
<polygon points="306.70,342.70 307.43,343.99 308.89,344.29 307.89,345.39 308.05,346.86 306.70,346.25 305.35,346.86 305.51,345.39 304.51,344.29 305.97,343.99" fill="#f6a8f2" stroke="#f03cf0" stroke-width="1.0"/>
<polygon points="313.60,336.20 314.33,337.49 315.79,337.79 314.79,338.89 314.95,340.36 313.60,339.75 312.25,340.36 312.41,338.89 311.41,337.79 312.87,337.49" fill="#f6a8f2" stroke="#f03cf0" stroke-width="1.0"/>
<polygon points="320.00,333.70 320.73,334.99 322.19,335.29 321.19,336.39 321.35,337.86 320.00,337.25 318.65,337.86 318.81,336.39 317.81,335.29 319.27,334.99" fill="#f6a8f2" stroke="#f03cf0" stroke-width="1.0"/>
<polygon points="326.30,331.30 327.03,332.59 328.49,332.89 327.49,333.99 327.65,335.46 326.30,334.85 324.95,335.46 325.11,333.99 324.11,332.89 325.57,332.59" fill="#f6a8f2" stroke="#f03cf0" stroke-width="1.0"/>
<polygon points="331.20,327.00 331.93,328.29 333.39,328.59 332.39,329.69 332.55,331.16 331.20,330.55 329.85,331.16 330.01,329.69 329.01,328.59 330.47,328.29" fill="#f6a8f2" stroke="#f03cf0" stroke-width="1.0"/>
<polygon points="336.00,324.10 336.73,325.39 338.19,325.69 337.19,326.79 337.35,328.26 336.00,327.65 334.65,328.26 334.81,326.79 333.81,325.69 335.27,325.39" fill="#f6a8f2" stroke="#f03cf0" stroke-width="1.0"/>
<polygon points="340.80,320.40 341.53,321.69 342.99,321.99 341.99,323.09 342.15,324.56 340.80,323.95 339.45,324.56 339.61,323.09 338.61,321.99 340.07,321.69" fill="#f6a8f2" stroke="#f03cf0" stroke-width="1.0"/>
<polygon points="345.70,315.30 346.43,316.59 347.89,316.89 346.89,317.99 347.05,319.46 345.70,318.85 344.35,319.46 344.51,317.99 343.51,316.89 344.97,316.59" fill="#f6a8f2" stroke="#f03cf0" stroke-width="1.0"/>
<polygon points="350.80,309.70 351.53,310.99 352.99,311.29 351.99,312.39 352.15,313.86 350.80,313.25 349.45,313.86 349.61,312.39 348.61,311.29 350.07,310.99" fill="#f6a8f2" stroke="#f03cf0" stroke-width="1.0"/>
<polygon points="355.50,307.20 356.23,308.49 357.69,308.79 356.69,309.89 356.85,311.36 355.50,310.75 354.15,311.36 354.31,309.89 353.31,308.79 354.77,308.49" fill="#f6a8f2" stroke="#f03cf0" stroke-width="1.0"/>
<polygon points="359.20,301.80 359.93,303.09 361.39,303.39 360.39,304.49 360.55,305.96 359.20,305.35 357.85,305.96 358.01,304.49 357.01,303.39 358.47,303.09" fill="#f6a8f2" stroke="#f03cf0" stroke-width="1.0"/>
<polygon points="362.30,295.50 363.03,296.79 364.49,297.09 363.49,298.19 363.65,299.66 362.30,299.05 360.95,299.66 361.11,298.19 360.11,297.09 361.57,296.79" fill="#f6a8f2" stroke="#f03cf0" stroke-width="1.0"/>
<polygon points="367.20,289.70 367.93,290.99 369.39,291.29 368.39,292.39 368.55,293.86 367.20,293.25 365.85,293.86 366.01,292.39 365.01,291.29 366.47,290.99" fill="#f6a8f2" stroke="#f03cf0" stroke-width="1.0"/>
<polygon points="372.30,281.70 373.03,282.99 374.49,283.29 373.49,284.39 373.65,285.86 372.30,285.25 370.95,285.86 371.11,284.39 370.11,283.29 371.57,282.99" fill="#f6a8f2" stroke="#f03cf0" stroke-width="1.0"/>
<polygon points="377.50,268.70 378.23,269.99 379.69,270.29 378.69,271.39 378.85,272.86 377.50,272.25 376.15,272.86 376.31,271.39 375.31,270.29 376.77,269.99" fill="#f6a8f2" stroke="#f03cf0" stroke-width="1.0"/>
<polygon points="382.30,261.20 383.03,262.49 384.49,262.79 383.49,263.89 383.65,265.36 382.30,264.75 380.95,265.36 381.11,263.89 380.11,262.79 381.57,262.49" fill="#f6a8f2" stroke="#f03cf0" stroke-width="1.0"/>
<polygon points="386.80,258.70 387.53,259.99 388.99,260.29 387.99,261.39 388.15,262.86 386.80,262.25 385.45,262.86 385.61,261.39 384.61,260.29 386.07,259.99" fill="#f6a8f2" stroke="#f03cf0" stroke-width="1.0"/>
<polyline points="199.0,380.0 209.2,372.7 219.0,367.3 228.6,358.2" fill="none" stroke="#24a0ae" stroke-width="1"/>
<polyline points="248.3,344.0 258.3,337.6 267.7,329.3 277.7,322.2 287.5,318.2 297.2,310.4 306.9,308.2 313.7,304.5 320.5,299.2 326.6,292.5 331.6,286.3 336.4,278.5 341.4,271.3 346.6,263.8 351.4,261.5" fill="none" stroke="#24a0ae" stroke-width="1"/>
<rect x="197.25" y="378.25" width="3.50" height="3.50" fill="#fff" stroke="#24a0ae" stroke-width="1.1"/>
<rect x="207.45" y="370.95" width="3.50" height="3.50" fill="#fff" stroke="#24a0ae" stroke-width="1.1"/>
<rect x="217.25" y="365.55" width="3.50" height="3.50" fill="#fff" stroke="#24a0ae" stroke-width="1.1"/>
<rect x="226.85" y="356.45" width="3.50" height="3.50" fill="#fff" stroke="#24a0ae" stroke-width="1.1"/>
<rect x="246.55" y="342.25" width="3.50" height="3.50" fill="#fff" stroke="#24a0ae" stroke-width="1.1"/>
<rect x="256.55" y="335.85" width="3.50" height="3.50" fill="#fff" stroke="#24a0ae" stroke-width="1.1"/>
<rect x="265.95" y="327.55" width="3.50" height="3.50" fill="#fff" stroke="#24a0ae" stroke-width="1.1"/>
<rect x="275.95" y="320.45" width="3.50" height="3.50" fill="#fff" stroke="#24a0ae" stroke-width="1.1"/>
<rect x="285.75" y="316.45" width="3.50" height="3.50" fill="#fff" stroke="#24a0ae" stroke-width="1.1"/>
<rect x="295.45" y="308.65" width="3.50" height="3.50" fill="#fff" stroke="#24a0ae" stroke-width="1.1"/>
<rect x="305.15" y="306.45" width="3.50" height="3.50" fill="#fff" stroke="#24a0ae" stroke-width="1.1"/>
<rect x="311.95" y="302.75" width="3.50" height="3.50" fill="#fff" stroke="#24a0ae" stroke-width="1.1"/>
<rect x="318.75" y="297.45" width="3.50" height="3.50" fill="#fff" stroke="#24a0ae" stroke-width="1.1"/>
<rect x="324.85" y="290.75" width="3.50" height="3.50" fill="#fff" stroke="#24a0ae" stroke-width="1.1"/>
<rect x="329.85" y="284.55" width="3.50" height="3.50" fill="#fff" stroke="#24a0ae" stroke-width="1.1"/>
<rect x="334.65" y="276.75" width="3.50" height="3.50" fill="#fff" stroke="#24a0ae" stroke-width="1.1"/>
<rect x="339.65" y="269.55" width="3.50" height="3.50" fill="#fff" stroke="#24a0ae" stroke-width="1.1"/>
<rect x="344.85" y="262.05" width="3.50" height="3.50" fill="#fff" stroke="#24a0ae" stroke-width="1.1"/>
<rect x="349.65" y="259.75" width="3.50" height="3.50" fill="#fff" stroke="#24a0ae" stroke-width="1.1"/>
<polyline points="199.0,371.8 209.2,366.9 219.0,358.7 228.6,350.9 238.3,340.9 248.3,336.0 258.3,326.4 267.7,314.5 277.7,309.5 287.5,302.7 297.2,298.5 306.9,298.0 313.6,294.1 320.0,285.8 326.3,273.5 330.9,264.0 336.4,261.1" fill="none" stroke="#1414f0" stroke-width="1"/>
<path d="M199.00 369.05L201.75 373.86L196.25 373.86Z" fill="#1414f0"/>
<path d="M209.20 364.15L211.95 368.96L206.45 368.96Z" fill="#1414f0"/>
<path d="M219.00 355.95L221.75 360.76L216.25 360.76Z" fill="#1414f0"/>
<path d="M228.60 348.15L231.35 352.96L225.85 352.96Z" fill="#1414f0"/>
<path d="M238.30 338.15L241.05 342.96L235.55 342.96Z" fill="#1414f0"/>
<path d="M248.30 333.25L251.05 338.06L245.55 338.06Z" fill="#1414f0"/>
<path d="M258.30 323.65L261.05 328.46L255.55 328.46Z" fill="#1414f0"/>
<path d="M267.70 311.75L270.45 316.56L264.95 316.56Z" fill="#1414f0"/>
<path d="M277.70 306.75L280.45 311.56L274.95 311.56Z" fill="#1414f0"/>
<path d="M287.50 299.95L290.25 304.76L284.75 304.76Z" fill="#1414f0"/>
<path d="M297.20 295.75L299.95 300.56L294.45 300.56Z" fill="#1414f0"/>
<path d="M306.90 295.25L309.65 300.06L304.15 300.06Z" fill="#1414f0"/>
<path d="M313.60 291.35L316.35 296.16L310.85 296.16Z" fill="#1414f0"/>
<path d="M320.00 283.05L322.75 287.86L317.25 287.86Z" fill="#1414f0"/>
<path d="M326.30 270.75L329.05 275.56L323.55 275.56Z" fill="#1414f0"/>
<path d="M330.90 261.25L333.65 266.06L328.15 266.06Z" fill="#1414f0"/>
<path d="M336.40 258.35L339.15 263.16L333.65 263.16Z" fill="#1414f0"/>
<polyline points="199.0,343.6 209.2,337.0 219.0,330.2 228.6,324.8 238.3,316.9 248.3,308.3 258.3,301.4 267.7,292.6 277.7,280.9 287.4,271.2 296.8,263.3 306.7,261.2" fill="none" stroke="#f5141e" stroke-width="1"/>
<circle cx="199.00" cy="343.60" r="2.25" fill="#f5141e"/>
<circle cx="209.20" cy="337.00" r="2.25" fill="#f5141e"/>
<circle cx="219.00" cy="330.20" r="2.25" fill="#f5141e"/>
<circle cx="228.60" cy="324.80" r="2.25" fill="#f5141e"/>
<circle cx="238.30" cy="316.90" r="2.25" fill="#f5141e"/>
<circle cx="248.30" cy="308.30" r="2.25" fill="#f5141e"/>
<circle cx="258.30" cy="301.40" r="2.25" fill="#f5141e"/>
<circle cx="267.70" cy="292.60" r="2.25" fill="#f5141e"/>
<circle cx="277.70" cy="280.90" r="2.25" fill="#f5141e"/>
<circle cx="287.40" cy="271.20" r="2.25" fill="#f5141e"/>
<circle cx="296.80" cy="263.30" r="2.25" fill="#f5141e"/>
<circle cx="306.70" cy="261.20" r="2.25" fill="#f5141e"/>
<polyline points="199.0,338.7 209.2,333.6 219.0,326.6 228.6,321.6 238.3,312.2 248.3,302.8 258.3,294.1 267.7,287.2 277.7,274.6 287.6,264.4 296.8,261.0" fill="none" stroke="#000000" stroke-width="1"/>
<rect x="197.05" y="336.75" width="3.90" height="3.90" fill="#000000"/>
<rect x="207.25" y="331.65" width="3.90" height="3.90" fill="#000000"/>
<rect x="217.05" y="324.65" width="3.90" height="3.90" fill="#000000"/>
<rect x="226.65" y="319.65" width="3.90" height="3.90" fill="#000000"/>
<rect x="236.35" y="310.25" width="3.90" height="3.90" fill="#000000"/>
<rect x="246.35" y="300.85" width="3.90" height="3.90" fill="#000000"/>
<rect x="256.35" y="292.15" width="3.90" height="3.90" fill="#000000"/>
<rect x="265.75" y="285.25" width="3.90" height="3.90" fill="#000000"/>
<rect x="275.75" y="272.65" width="3.90" height="3.90" fill="#000000"/>
<rect x="285.65" y="262.45" width="3.90" height="3.90" fill="#000000"/>
<rect x="294.85" y="259.05" width="3.90" height="3.90" fill="#000000"/>
</g>
<line x1="293.6" y1="371.20" x2="309.6" y2="371.20" stroke="#000000" stroke-width="1.2"/>
<rect x="299.64" y="369.44" width="3.51" height="3.51" fill="#000000"/>
<text x="315.00" y="372.90" font-family='"Liberation Serif", serif' font-size="10" font-weight="normal" font-style="normal" text-anchor="start" fill="#333" stroke="#333" stroke-width="0.2">σ</text>
<text x="319.70" y="375.30" font-family='"Liberation Serif", serif' font-size="6.6" font-weight="normal" font-style="normal" text-anchor="start" fill="#333" stroke="#333" stroke-width="0.35">w</text>
<text y="373.80" font-family='"Liberation Serif", serif' font-size="9.6" fill="#222" stroke="#222" stroke-width="0.2"><tspan x="344.40" font-style="italic">θ</tspan><tspan x="349.50">=</tspan><tspan x="355.40" textLength="8.8" lengthAdjust="spacingAndGlyphs">25</tspan><tspan x="366.30">°</tspan></text>
<line x1="293.6" y1="381.60" x2="309.6" y2="381.60" stroke="#f5141e" stroke-width="1.2"/>
<circle cx="301.40" cy="381.60" r="2.02" fill="#f5141e"/>
<text x="315.00" y="383.30" font-family='"Liberation Serif", serif' font-size="10" font-weight="normal" font-style="normal" text-anchor="start" fill="#333" stroke="#333" stroke-width="0.2">σ</text>
<text x="319.70" y="385.70" font-family='"Liberation Serif", serif' font-size="6.6" font-weight="normal" font-style="normal" text-anchor="start" fill="#333" stroke="#333" stroke-width="0.35">e</text>
<text y="383.20" font-family='"Liberation Serif", serif' font-size="9.6" fill="#222" stroke="#222" stroke-width="0.2"><tspan x="344.40" font-style="italic">θ</tspan><tspan x="349.50">=</tspan><tspan x="355.40" textLength="8.8" lengthAdjust="spacingAndGlyphs">25</tspan><tspan x="366.30">°</tspan></text>
<line x1="293.6" y1="392.40" x2="309.6" y2="392.40" stroke="#1414f0" stroke-width="1.2"/>
<path d="M301.40 389.92L303.88 394.26L298.92 394.26Z" fill="#1414f0"/>
<text x="315.00" y="394.10" font-family='"Liberation Serif", serif' font-size="10" font-weight="normal" font-style="normal" text-anchor="start" fill="#333" stroke="#333" stroke-width="0.2">σ</text>
<text x="319.70" y="396.50" font-family='"Liberation Serif", serif' font-size="6.6" font-weight="normal" font-style="normal" text-anchor="start" fill="#333" stroke="#333" stroke-width="0.35">w</text>
<text y="394.20" font-family='"Liberation Serif", serif' font-size="9.6" fill="#222" stroke="#222" stroke-width="0.2"><tspan x="344.40" font-style="italic">θ</tspan><tspan x="349.50">=</tspan><tspan x="355.40" textLength="8.8" lengthAdjust="spacingAndGlyphs">45</tspan><tspan x="366.30">°</tspan></text>
<line x1="293.6" y1="403.40" x2="309.6" y2="403.40" stroke="#24a0ae" stroke-width="1.2"/>
<rect x="299.82" y="401.82" width="3.15" height="3.15" fill="#fff" stroke="#24a0ae" stroke-width="1.1"/>
<text x="315.00" y="405.10" font-family='"Liberation Serif", serif' font-size="10" font-weight="normal" font-style="normal" text-anchor="start" fill="#333" stroke="#333" stroke-width="0.2">σ</text>
<text x="319.70" y="407.50" font-family='"Liberation Serif", serif' font-size="6.6" font-weight="normal" font-style="normal" text-anchor="start" fill="#333" stroke="#333" stroke-width="0.35">e</text>
<text y="404.70" font-family='"Liberation Serif", serif' font-size="9.6" fill="#222" stroke="#222" stroke-width="0.2"><tspan x="344.40" font-style="italic">θ</tspan><tspan x="349.50">=</tspan><tspan x="355.40" textLength="8.8" lengthAdjust="spacingAndGlyphs">45</tspan><tspan x="366.30">°</tspan></text>
<line x1="293.6" y1="414.40" x2="309.6" y2="414.40" stroke="#f03cf0" stroke-width="1.2"/>
<polygon points="301.40,412.33 302.06,413.49 303.37,413.76 302.47,414.75 302.62,416.07 301.40,415.52 300.18,416.07 300.33,414.75 299.43,413.76 300.74,413.49" fill="#f6a8f2" stroke="#f03cf0" stroke-width="1.0"/>
<text x="315.00" y="416.10" font-family='"Liberation Serif", serif' font-size="10" font-weight="normal" font-style="normal" text-anchor="start" fill="#333" stroke="#333" stroke-width="0.2">σ</text>
<text x="319.70" y="418.50" font-family='"Liberation Serif", serif' font-size="6.6" font-weight="normal" font-style="normal" text-anchor="start" fill="#333" stroke="#333" stroke-width="0.35">w</text>
<text y="416.90" font-family='"Liberation Serif", serif' font-size="9.6" fill="#222" stroke="#222" stroke-width="0.2"><tspan x="344.40" font-style="italic">θ</tspan><tspan x="349.50">=</tspan><tspan x="355.40" textLength="8.8" lengthAdjust="spacingAndGlyphs">65</tspan><tspan x="366.30">°</tspan></text>
<line x1="293.6" y1="425.40" x2="309.6" y2="425.40" stroke="#a59e42" stroke-width="1.2"/>
<circle cx="301.40" cy="425.40" r="1.67" fill="#fff" stroke="#a59e42" stroke-width="0.9"/>
<text x="315.00" y="427.10" font-family='"Liberation Serif", serif' font-size="10" font-weight="normal" font-style="normal" text-anchor="start" fill="#333" stroke="#333" stroke-width="0.2">σ</text>
<text x="319.70" y="429.50" font-family='"Liberation Serif", serif' font-size="6.6" font-weight="normal" font-style="normal" text-anchor="start" fill="#333" stroke="#333" stroke-width="0.35">e</text>
<text y="428.70" font-family='"Liberation Serif", serif' font-size="9.6" fill="#222" stroke="#222" stroke-width="0.2"><tspan x="344.40" font-style="italic">θ</tspan><tspan x="349.50">=</tspan><tspan x="355.40" textLength="8.8" lengthAdjust="spacingAndGlyphs">65</tspan><tspan x="366.30">°</tspan></text>
<rect x="293.6" y="366.4" width="16.099999999999966" height="9.700000000000045" fill="none" stroke="#e23a2a" stroke-width="1"/>
<line x1="8" y1="444.3" x2="546" y2="444.3" stroke="#f2f2f2" stroke-width="1.4"/>
<line x1="546" y1="0" x2="546" y2="444" stroke="#f6f6f6" stroke-width="1"/>
</svg></body></html>
